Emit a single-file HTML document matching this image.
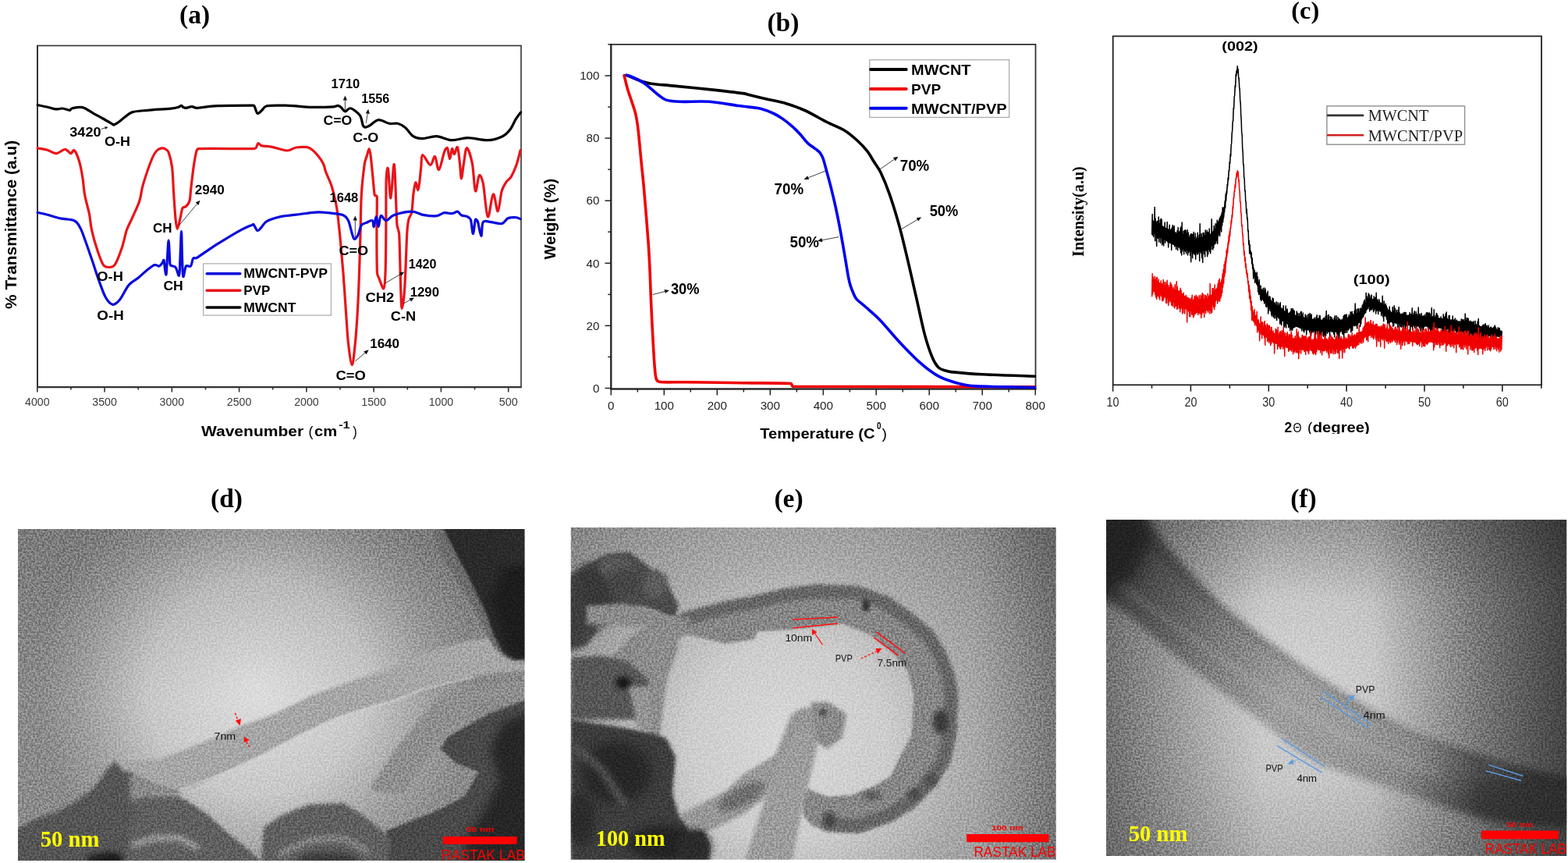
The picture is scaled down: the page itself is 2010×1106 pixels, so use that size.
<!DOCTYPE html>
<html><head><meta charset="utf-8"><title>Figure</title>
<style>html,body{margin:0;padding:0;background:#fff;}svg{display:block;}</style></head>
<body><svg width="2010" height="1106" viewBox="0 0 2010 1106">
<defs>
<clipPath id="clipd"><rect x="23" y="678" width="649.6" height="425"/></clipPath>
<clipPath id="clipe"><rect x="731.6" y="676" width="622.2" height="425.7"/></clipPath>
<clipPath id="clipf"><rect x="1418" y="666" width="590.4" height="431"/></clipPath>
<clipPath id="clipc"><rect x="1600" y="530" width="200" height="26"/></clipPath>
<filter id="b1" filterUnits="userSpaceOnUse" x="0" y="600" width="2010" height="506"><feGaussianBlur stdDeviation="1"/></filter>
<filter id="b1.5" filterUnits="userSpaceOnUse" x="0" y="600" width="2010" height="506"><feGaussianBlur stdDeviation="1.5"/></filter>
<filter id="b2" filterUnits="userSpaceOnUse" x="0" y="600" width="2010" height="506"><feGaussianBlur stdDeviation="2"/></filter>
<filter id="b2.5" filterUnits="userSpaceOnUse" x="0" y="600" width="2010" height="506"><feGaussianBlur stdDeviation="2.5"/></filter>
<filter id="b3" filterUnits="userSpaceOnUse" x="0" y="600" width="2010" height="506"><feGaussianBlur stdDeviation="3"/></filter>
<filter id="b4" filterUnits="userSpaceOnUse" x="0" y="600" width="2010" height="506"><feGaussianBlur stdDeviation="4"/></filter>
<filter id="b5" filterUnits="userSpaceOnUse" x="0" y="600" width="2010" height="506"><feGaussianBlur stdDeviation="5"/></filter>
<filter id="b6" filterUnits="userSpaceOnUse" x="0" y="600" width="2010" height="506"><feGaussianBlur stdDeviation="6"/></filter>
<filter id="b7" filterUnits="userSpaceOnUse" x="0" y="600" width="2010" height="506"><feGaussianBlur stdDeviation="7"/></filter>
<filter id="b8" filterUnits="userSpaceOnUse" x="0" y="600" width="2010" height="506"><feGaussianBlur stdDeviation="8"/></filter>
<filter id="b10" filterUnits="userSpaceOnUse" x="0" y="600" width="2010" height="506"><feGaussianBlur stdDeviation="10"/></filter>
<filter id="noise" x="0" y="0" width="100%" height="100%" color-interpolation-filters="sRGB">
 <feTurbulence type="fractalNoise" baseFrequency="0.42" numOctaves="2" seed="3"/>
 <feColorMatrix type="matrix" values="3 0 0 0 -1  3 0 0 0 -1  3 0 0 0 -1  0 0 0 0 1"/>
</filter>
<radialGradient id="gd" gradientUnits="userSpaceOnUse" cx="330" cy="880" r="280">
 <stop offset="0" stop-color="#dedede"/><stop offset="0.5" stop-color="#c8c8c8"/><stop offset="0.8" stop-color="#9e9e9e"/><stop offset="1" stop-color="#8a8a8a"/>
</radialGradient>
<linearGradient id="gd2" gradientUnits="userSpaceOnUse" x1="0" y1="900" x2="0" y2="690">
 <stop offset="0" stop-color="#000" stop-opacity="0"/><stop offset="1" stop-color="#000" stop-opacity="0.11"/>
</linearGradient>
<radialGradient id="gdUNUSED">
</radialGradient>
<radialGradient id="ge" gradientUnits="userSpaceOnUse" cx="1010" cy="950" r="420">
 <stop offset="0" stop-color="#d8d8d8"/><stop offset="0.3" stop-color="#cdcdcd"/><stop offset="0.55" stop-color="#aaaaaa"/><stop offset="0.75" stop-color="#979797"/><stop offset="1" stop-color="#7a7a7a"/>
</radialGradient>
<linearGradient id="ge2" gradientUnits="userSpaceOnUse" x1="1250" y1="0" x2="1354" y2="0">
 <stop offset="0" stop-color="#000" stop-opacity="0"/><stop offset="1" stop-color="#000" stop-opacity="0.18"/>
</linearGradient>
<radialGradient id="gf" gradientUnits="userSpaceOnUse" cx="1660" cy="880" r="420">
 <stop offset="0" stop-color="#d2d2d2"/><stop offset="0.3" stop-color="#c6c6c6"/><stop offset="0.6" stop-color="#a8a8a8"/><stop offset="1" stop-color="#8a8a8a"/>
</radialGradient>
<linearGradient id="gf2" gradientUnits="userSpaceOnUse" x1="1760" y1="0" x2="2008" y2="0">
 <stop offset="0" stop-color="#000" stop-opacity="0"/><stop offset="1" stop-color="#000" stop-opacity="0.55"/>
</linearGradient>
<linearGradient id="gf3" gradientUnits="userSpaceOnUse" x1="1418" y1="0" x2="1620" y2="0">
 <stop offset="0" stop-color="#000" stop-opacity="0.34"/><stop offset="1" stop-color="#000" stop-opacity="0"/>
</linearGradient>
<linearGradient id="gf4" gradientUnits="userSpaceOnUse" x1="0" y1="666" x2="0" y2="770">
 <stop offset="0" stop-color="#000" stop-opacity="0.16"/><stop offset="1" stop-color="#000" stop-opacity="0"/>
</linearGradient>
<linearGradient id="gband" gradientUnits="userSpaceOnUse" x1="1418" y1="700" x2="2008" y2="1040">
 <stop offset="0" stop-color="#303030"/><stop offset="0.148" stop-color="#565656"/><stop offset="0.27" stop-color="#7a7a7a"/><stop offset="0.43" stop-color="#9e9e9e"/><stop offset="0.57" stop-color="#9a9a9a"/><stop offset="0.7" stop-color="#888888"/><stop offset="0.81" stop-color="#505050"/><stop offset="0.92" stop-color="#303030"/><stop offset="1" stop-color="#282828"/>
</linearGradient>
</defs>
<rect width="2010" height="1106" fill="#fff"/>
<text x="230" y="29.5" font-family="'Liberation Serif', sans-serif" font-size="33.5" font-weight="bold" fill="#000" text-anchor="start" >(a)</text>
<rect x="48" y="58.5" width="620" height="437.5" fill="none" stroke="#333" stroke-width="1.6"/>
<line x1="47.8" y1="496.1" x2="668.5" y2="496.1" stroke="#333" stroke-width="2.2" />
<line x1="48" y1="58" x2="48" y2="497" stroke="#333" stroke-width="2" />
<line x1="47.8" y1="496" x2="47.8" y2="502.5" stroke="#333" stroke-width="1.6" />
<line x1="90.9" y1="496" x2="90.9" y2="499.5" stroke="#333" stroke-width="1.6" />
<line x1="134.1" y1="496" x2="134.1" y2="502.5" stroke="#333" stroke-width="1.6" />
<line x1="177.2" y1="496" x2="177.2" y2="499.5" stroke="#333" stroke-width="1.6" />
<line x1="220.3" y1="496" x2="220.3" y2="502.5" stroke="#333" stroke-width="1.6" />
<line x1="263.5" y1="496" x2="263.5" y2="499.5" stroke="#333" stroke-width="1.6" />
<line x1="306.6" y1="496" x2="306.6" y2="502.5" stroke="#333" stroke-width="1.6" />
<line x1="349.7" y1="496" x2="349.7" y2="499.5" stroke="#333" stroke-width="1.6" />
<line x1="392.9" y1="496" x2="392.9" y2="502.5" stroke="#333" stroke-width="1.6" />
<line x1="436" y1="496" x2="436" y2="499.5" stroke="#333" stroke-width="1.6" />
<line x1="479.1" y1="496" x2="479.1" y2="502.5" stroke="#333" stroke-width="1.6" />
<line x1="522.3" y1="496" x2="522.3" y2="499.5" stroke="#333" stroke-width="1.6" />
<line x1="565.4" y1="496" x2="565.4" y2="502.5" stroke="#333" stroke-width="1.6" />
<line x1="608.5" y1="496" x2="608.5" y2="499.5" stroke="#333" stroke-width="1.6" />
<line x1="651.7" y1="496" x2="651.7" y2="502.5" stroke="#333" stroke-width="1.6" />
<text x="47.8" y="519.8" font-family="'Liberation Sans', sans-serif" font-size="15.3" font-weight="normal" fill="#3a3a3a" text-anchor="middle" textLength="31.5" lengthAdjust="spacingAndGlyphs" >4000</text>
<text x="134.1" y="519.8" font-family="'Liberation Sans', sans-serif" font-size="15.3" font-weight="normal" fill="#3a3a3a" text-anchor="middle" textLength="31.5" lengthAdjust="spacingAndGlyphs" >3500</text>
<text x="220.3" y="519.8" font-family="'Liberation Sans', sans-serif" font-size="15.3" font-weight="normal" fill="#3a3a3a" text-anchor="middle" textLength="31.5" lengthAdjust="spacingAndGlyphs" >3000</text>
<text x="306.6" y="519.8" font-family="'Liberation Sans', sans-serif" font-size="15.3" font-weight="normal" fill="#3a3a3a" text-anchor="middle" textLength="31.5" lengthAdjust="spacingAndGlyphs" >2500</text>
<text x="392.9" y="519.8" font-family="'Liberation Sans', sans-serif" font-size="15.3" font-weight="normal" fill="#3a3a3a" text-anchor="middle" textLength="31.5" lengthAdjust="spacingAndGlyphs" >2000</text>
<text x="479.1" y="519.8" font-family="'Liberation Sans', sans-serif" font-size="15.3" font-weight="normal" fill="#3a3a3a" text-anchor="middle" textLength="31.5" lengthAdjust="spacingAndGlyphs" >1500</text>
<text x="565.4" y="519.8" font-family="'Liberation Sans', sans-serif" font-size="15.3" font-weight="normal" fill="#3a3a3a" text-anchor="middle" textLength="31.5" lengthAdjust="spacingAndGlyphs" >1000</text>
<text x="651.7" y="519.8" font-family="'Liberation Sans', sans-serif" font-size="15.3" font-weight="normal" fill="#3a3a3a" text-anchor="middle" textLength="24" lengthAdjust="spacingAndGlyphs" >500</text>
<path d="M48.2,134.6 C50.2,135 56.1,136.1 60,137 C63.9,137.9 68,139.6 71.3,139.9 C74.6,140.2 77,138.8 80,139 C83,139.2 87.3,141.3 89.3,141.3 C90.7,141.3 90.6,139.3 92,139 C94.7,138.4 100.9,136.5 105.7,137.6 C110.5,138.7 116.2,143.4 120.6,145.8 C125,148.2 128,149.8 132,152 C136,154.2 142.2,158 144.5,159.3 C145.1,159.6 145.4,160.3 146,160 C147.5,159.4 151.1,157.2 153.4,155.5 C155.7,153.8 157.2,152 160,150 C162.8,148 165.4,144.9 169.9,143.6 C174.8,142.2 181.5,142 189.3,141.3 C197.5,140.6 212.7,139.7 219.1,139.1 C222.7,138.7 225.8,138.1 228,137.5 C229.9,137 231.3,135.4 232.5,135.4 C233.7,135.4 234,137 235,137.5 C236,138 237.1,138.5 238.5,138.4 C240.3,138.2 243.8,136.6 246,136.6 C248.2,136.6 249.5,138.5 252,138.4 C257.5,138.2 268,136.2 278.8,135.7 C290.7,135.1 315.7,135.1 323.6,135.1 C324.6,135.1 325.5,135 326,135.8 C327.1,137.5 328.5,144.2 330,145.3 C331.5,146.4 333.1,143.7 334.9,142.3 C336.9,140.7 338.2,136.6 341.9,135.8 C347.7,134.6 360.2,135.1 369.8,135.3 C379.4,135.6 390,137.1 399.6,137.3 C409.2,137.6 421.9,137.1 427.5,136.8 C429.9,136.7 431.8,135.1 433.4,135.3 C435,135.5 436,136.6 437.4,137.8 C438.9,139.1 440.4,142.6 442.4,142.8 C444.4,143 446.3,138 449.4,138.8 C452.5,139.6 458.6,144.2 461.3,147.8 C464,151.5 464.1,158.1 465.3,160.7 C465.9,162.1 466.8,163.2 468.3,163.2 C469.8,163.2 472,162 474.2,160.7 C477,159.1 481.1,154.1 485.2,153.7 C489.3,153.3 494.8,157.5 498.9,158.3 C503,159.1 506.4,157.4 509.9,158.3 C513.4,159.2 516.5,161.1 519.8,163.8 C523.1,166.5 526.1,172.4 529.8,174.7 C533.4,177 536.8,177.7 541.7,177.7 C546.7,177.7 553.3,174.4 559.6,174.7 C565.9,175 572.9,179.4 579.5,179.7 C586.1,180 591.8,176.7 599.4,176.7 C607,176.7 617.8,180 625.3,179.7 C632.8,179.4 639.4,177 644.2,174.7 C649,172.4 651.3,169.5 654.1,165.8 C656.9,162.2 658.9,156.5 661.1,152.8 C663.4,149.2 666.5,145.4 667.6,143.9" fill="none" stroke="#000" stroke-width="3.2" stroke-linejoin="round" stroke-linecap="round" />
<path d="M48.2,189.9 C50.2,190.2 56,190.9 60,192 C64,193.1 68.2,196.7 72.1,196.6 C76,196.5 80.2,191.3 83.3,191.3 C86.4,191.3 88.7,196.3 90.7,196.6 C92.7,196.8 93.5,191.3 95.2,192.8 C97,194.3 99.5,200.1 101.2,205.5 C103,211.1 104.5,219 105.7,226.4 C107,233.8 107.2,241.9 108.7,250 C110.2,258.1 113.1,267.5 114.6,275 C116.1,282.5 115.8,287 117.6,294.8 C119.3,302.6 122.6,314.1 125.1,321.6 C127.6,329 130,336.1 132.5,339.6 C134.4,342.2 137.5,342.6 140,342.5 C142.5,342.4 145.7,341.6 147.5,338.8 C150.2,334.6 153.9,324.5 156.4,317.2 C158.9,309.9 160.2,301.3 162.4,294.8 C164.7,288.3 167.2,284.6 169.9,278.4 C172.6,272.2 176.6,264.4 178.8,257.5 C181,250.6 180.9,245 183.3,236.9 C186,227.7 192.2,209.8 195.2,202.5 C196.9,198.4 199,195.1 201,193 C202.9,191 205.4,190.2 207.2,189.9 C209,189.6 210.5,190.1 212,191 C213.5,191.9 215.3,192.9 216.1,195.1 C217.5,199 219.6,206.6 220.6,214.5 C221.7,222.8 221.8,234.1 222.5,245 C223.2,255.9 224.2,271.9 225,280 C225.5,285.4 226.3,293.3 227.3,293.3 C228.3,293.3 229.9,284.3 231,279.9 C232.1,275.5 232.8,269.3 234,266.7 C234.9,264.9 237.1,265.9 238.5,264.5 C240,263 242.1,260.7 243,257.5 C244,254.1 243.9,249.6 244.5,244.3 C245.3,237.2 246.8,223.4 248,215 C249.2,206.6 250.8,197.7 251.9,193.6 C252.4,192 253.2,190.7 254.9,190.6 C266.9,190.1 311.4,190.8 323.6,190.6 C325.4,190.6 326.8,190.8 328,189.6 C329.2,188.4 329.8,184.1 330.9,183.6 C332,183.1 333,186.1 334.9,186.6 C338.1,187.4 344.4,187.5 349.9,188.6 C355.4,189.7 362.8,192.9 367.8,193 C372.8,193.1 375.4,189.7 379.7,189 C384,188.3 390.3,188.2 393.6,188.6 C396.2,188.9 397.5,189.9 399.6,191.5 C401.9,193.3 405.1,196.4 407.6,199.5 C410.1,202.6 412.9,206.6 414.5,210 C416.1,213.4 416.1,216 417.5,219.9 C419.3,224.9 423.2,232.3 425.5,239.8 C427.8,247.3 429.9,256.3 431.4,264.7 C432.9,273.1 433.6,282.4 434.5,290 C435.4,297.6 435.8,302 436.5,310 C437.4,320 438.8,335 440,350 C441.2,365 442.4,385 443.5,400 C444.6,415 445.2,428.7 446.5,440 C447.8,451.2 449.8,467.7 451.3,467.7 C452.8,467.7 454.1,451.1 455.3,440 C456.5,428.7 457.4,415 458.3,400 C459.2,385 459.9,366.7 460.5,350 C461.1,333.3 461.5,316.7 462,300 C462.5,283.3 462.4,264.8 463.3,249.8 C464.2,234.8 466.2,218.3 467.3,210 C467.9,205.9 469.2,203.2 470.2,200 C471.2,196.8 472.4,190.5 473.2,190.5 C474,190.5 474.7,196.1 475.2,200 C476,206.6 477.4,221.6 478.2,229.9 C479,237.9 479.4,246.2 480.2,249.8 C480.5,251.2 483.1,250.3 483.2,251.7 C483.6,260.1 482.8,283.6 482.9,300 C482.9,316.4 483,340.5 483.5,350 C483.7,353 484.8,354.3 486,357 C487.4,360.3 490.5,370.9 491.8,369.7 C493.1,368.5 493.7,357.9 494,350 C494.5,338.4 494.6,320 494.8,300 C495,280 494.7,243.9 495.1,229.9 C495.3,224.3 496.4,212 497.4,216 C498.4,220 499.6,254.6 500.9,253.8 C502.2,253 504.1,205.4 505.4,211 C506.7,216.6 507.8,272.8 508.9,287.6 C509.3,292.7 511.4,294.9 511.7,300 C512.5,313.7 513.1,353.8 513.7,369.7 C514.1,380 514.4,395.5 515.2,395.5 C516,395.5 518,380.1 518.7,369.7 C519.8,353.8 520.9,314.7 521.7,300 C522.1,292.6 522.8,286.3 523.8,281.6 C524.7,277.4 527,275.9 527.8,271.7 C528.8,266.4 529,256.1 529.8,249.8 C530.6,243.5 531.7,234.9 532.7,233.9 C533.7,232.9 534.9,243.8 535.7,243.8 C536.5,243.8 537.1,237.9 537.7,233.9 C538.4,229.1 539,220.9 539.7,215 C540.4,209.1 539.7,199.2 541.7,198.6 C543.7,198 549,211.2 551.6,211.5 C554.2,211.8 555.8,199.6 557.6,200.6 C559.4,201.6 560.6,218.5 562.6,217.5 C564.6,216.5 567.8,199.2 569.6,194.6 C570.5,192.3 572.4,188.2 573.5,189.7 C574.6,191.2 575.5,203.4 576.5,203.6 C577.5,203.8 578.5,191.6 579.5,190.6 C580.5,189.6 581.3,197.9 582.5,197.6 C583.7,197.3 585.3,186.6 586.5,188.7 C587.7,190.8 588.7,203.3 589.5,210 C590.3,216.7 590.6,228.9 591.4,228.9 C592.2,228.9 593.2,216.5 594.4,210 C595.6,203.5 596.6,189.8 598.4,189.7 C600.2,189.6 603.7,201.3 605.4,209.6 C607.2,218.8 607.9,242.2 609.4,244.8 C610.9,247.4 612.6,226.6 614.3,224.9 C615.9,223.2 618.4,230.5 619.3,234.9 C621.1,243.7 623.1,275.4 625.3,277.7 C627.4,280 630.1,250 632.2,248.8 C634.4,247.6 636.4,271.4 638.2,270.7 C640,270 641.4,251.1 643.2,244.8 C644.7,239.7 647.2,235.9 649.2,232.9 C651.1,230.1 653.4,229.8 655.1,226.9 C657.2,223.2 660.1,216.7 662.1,211 C664.1,205.3 666.3,195.7 667.1,192.6" fill="none" stroke="#e8141a" stroke-width="3.2" stroke-linejoin="round" stroke-linecap="round" />
<path d="M48.2,272.4 C50.2,272.8 55.3,273.8 60,275 C64.8,276.2 71.4,278.6 77.3,279.9 C83.2,281.2 91,280.8 95.2,282.8 C99.4,284.8 100.5,287.8 102.7,291.8 C105,295.8 106.5,300.7 108.7,306.7 C111.2,313.4 114.6,323.4 117.6,332.1 C120.6,340.8 123.6,350.8 126.6,359 C129.6,367.2 132.5,376.1 135.5,381.3 C138,385.7 141.5,389.8 144.5,390.3 C147.5,390.8 150.7,387.6 153.4,384.3 C156.9,380.1 161.4,369.6 165.4,364.9 C169.2,360.4 173.3,359.2 177.3,356 C181.3,352.8 185.8,348.2 189.3,345.5 C192.7,342.9 195.7,340.4 198.2,339.6 C200.6,338.9 202.6,341.4 204.2,341 C205.8,340.6 207,338.2 208,337 C209,335.8 209.5,332.3 210.1,333.6 C210.7,334.9 211,342 211.5,345 C211.9,347.6 212.6,354 213.1,351.5 C213.6,349 214,337.2 214.5,330 C215,322.8 215.6,308.2 216.1,308.2 C216.6,308.2 217.1,324.8 217.5,330 C217.8,333.8 217.2,337.5 218.4,339.6 C219.7,341.7 223.2,340.3 225,342.5 C226.9,344.7 228.6,355.1 229.6,353 C230.6,350.9 230.5,339.2 231,330 C231.5,320.6 232.1,296.3 232.5,296.3 C232.9,296.3 233.1,320.3 233.5,330 C233.9,339.7 234,352.7 234.8,354.5 C235.6,356.3 236.9,343.2 238.5,341 C239.9,339.1 243,342.6 244.5,341 C246,339.4 246.3,333 247.5,331.3 C248.5,329.8 250.4,331.5 251.9,330.6 C257.1,327.5 269.3,318.7 278.8,312.7 C288.3,306.7 301.2,298.9 308.7,294.8 C314.4,291.7 320.9,289.3 323.6,288.1 C324.1,287.9 324.6,287.2 325,287.6 C326.1,288.8 328.4,294.9 330,295.5 C331.6,296.1 333.1,293.3 334.9,291.5 C336.9,289.5 338.2,285.7 341.9,283.6 C346,281.3 353.5,279 359.8,277.6 C366.1,276.2 372.2,276 379.7,275.1 C387.2,274.2 398,272.5 404.6,272.1 C410.6,271.7 413.7,272 419.5,272.6 C425.3,273.2 434.9,273.9 439.4,275.6 C443.1,277 444.6,279.1 446.4,282.6 C448.4,286.6 450,295.5 451.3,299.5 C452.3,302.4 453,306.3 454.3,306.5 C455.6,306.7 457.9,303.3 459.3,300.5 C460.8,297.5 461.6,291.1 463.3,288.6 C464.8,286.4 467,286.6 469.3,285.6 C471.6,284.6 475.6,281.8 477.2,282.6 C478.8,283.4 478.4,291.3 479.2,290.5 C480,289.7 481.2,277.6 482.2,277.6 C483.2,277.6 484.2,290.7 485.2,290.5 C486.2,290.3 486.6,277.9 488.2,276.6 C489.8,275.3 492.1,282.8 494.9,282.6 C497.7,282.5 500.3,277.3 504.9,275.7 C510.4,273.8 521.3,271.2 527.8,271.2 C534.3,271.2 538.4,274.8 543.7,275.7 C549,276.6 555.3,277.2 559.6,276.7 C563.9,276.2 566.3,273.2 569.6,272.7 C572.9,272.2 576.7,273.9 579.5,273.7 C582.3,273.4 584.5,270.9 586.5,271.2 C588.5,271.5 589.2,274.6 591.4,275.7 C593.5,276.8 597.4,276.7 599.4,277.7 C601.4,278.7 602.7,279.5 603.4,281.6 C604.6,285.2 605.4,299.6 606.4,299.6 C607.4,299.6 608.4,284.3 609.4,281.6 C609.9,280.3 611.8,282.3 612.3,283.6 C613.5,287.1 615.6,302.3 616.8,302.5 C618,302.7 617.2,287.6 619.3,284.6 C621.4,281.6 625.3,284.3 629.3,284.6 C633.3,284.9 639.6,287.4 643.2,286.6 C646.8,285.8 648.1,281 651.1,279.7 C654.1,278.4 658.5,278.5 661.1,278.7 C663.6,278.8 666,280.3 667,280.6" fill="none" stroke="#0a0adc" stroke-width="3.2" stroke-linejoin="round" stroke-linecap="round" />
<text x="89.3" y="175" font-family="'Liberation Sans', sans-serif" font-size="17" font-weight="bold" fill="#000" text-anchor="start" textLength="40.3" lengthAdjust="spacingAndGlyphs" >3420</text>
<text x="134" y="186.9" font-family="'Liberation Sans', sans-serif" font-size="17" font-weight="bold" fill="#000" text-anchor="start" textLength="32.9" lengthAdjust="spacingAndGlyphs" >O-H</text>
<line x1="129.6" y1="165.5" x2="134.7" y2="164" stroke="#111" stroke-width="0.8" /><polygon points="138.5,162.8 135.2,165.7 134.1,162.2" fill="#111"/>
<text x="424.5" y="113" font-family="'Liberation Sans', sans-serif" font-size="17" font-weight="bold" fill="#000" text-anchor="start" textLength="36.8" lengthAdjust="spacingAndGlyphs" >1710</text>
<line x1="442.4" y1="142" x2="442.4" y2="128.4" stroke="#111" stroke-width="0.8" /><polygon points="442.4,122.4 445,128.4 439.8,128.4" fill="#111"/>
<text x="463.3" y="131.8" font-family="'Liberation Sans', sans-serif" font-size="17" font-weight="bold" fill="#000" text-anchor="start" textLength="35.8" lengthAdjust="spacingAndGlyphs" >1556</text>
<line x1="469.3" y1="157.7" x2="471.2" y2="145.7" stroke="#111" stroke-width="0.8" /><polygon points="472.2,139.8 473.8,146.1 468.7,145.3" fill="#111"/>
<text x="414.5" y="160.2" font-family="'Liberation Sans', sans-serif" font-size="17" font-weight="bold" fill="#000" text-anchor="start" textLength="36.8" lengthAdjust="spacingAndGlyphs" >C=O</text>
<text x="452.3" y="182.1" font-family="'Liberation Sans', sans-serif" font-size="17" font-weight="bold" fill="#000" text-anchor="start" textLength="32.9" lengthAdjust="spacingAndGlyphs" >C-O</text>
<text x="249.7" y="248.8" font-family="'Liberation Sans', sans-serif" font-size="17" font-weight="bold" fill="#000" text-anchor="start" textLength="38.1" lengthAdjust="spacingAndGlyphs" >2940</text>
<line x1="229.6" y1="288.8" x2="252.6" y2="261.3" stroke="#111" stroke-width="0.8" /><polygon points="256.4,256.7 254.6,263 250.6,259.6" fill="#111"/>
<text x="196" y="297.8" font-family="'Liberation Sans', sans-serif" font-size="17" font-weight="bold" fill="#000" text-anchor="start" textLength="24.6" lengthAdjust="spacingAndGlyphs" >CH</text>
<text x="124.3" y="359.7" font-family="'Liberation Sans', sans-serif" font-size="17" font-weight="bold" fill="#000" text-anchor="start" textLength="33.6" lengthAdjust="spacingAndGlyphs" >O-H</text>
<text x="209.4" y="371.6" font-family="'Liberation Sans', sans-serif" font-size="17" font-weight="bold" fill="#000" text-anchor="start" textLength="25.4" lengthAdjust="spacingAndGlyphs" >CH</text>
<text x="124.3" y="410.4" font-family="'Liberation Sans', sans-serif" font-size="17" font-weight="bold" fill="#000" text-anchor="start" textLength="34.4" lengthAdjust="spacingAndGlyphs" >O-H</text>
<text x="422.5" y="259.2" font-family="'Liberation Sans', sans-serif" font-size="17" font-weight="bold" fill="#000" text-anchor="start" textLength="36.8" lengthAdjust="spacingAndGlyphs" >1648</text>
<line x1="455.3" y1="304" x2="455.3" y2="282.6" stroke="#111" stroke-width="0.8" /><polygon points="455.3,276.6 457.9,282.6 452.7,282.6" fill="#111"/>
<text x="434.4" y="326.9" font-family="'Liberation Sans', sans-serif" font-size="17" font-weight="bold" fill="#000" text-anchor="start" textLength="37.8" lengthAdjust="spacingAndGlyphs" >C=O</text>
<text x="523.7" y="343.8" font-family="'Liberation Sans', sans-serif" font-size="17" font-weight="bold" fill="#000" text-anchor="start" textLength="35.8" lengthAdjust="spacingAndGlyphs" >1420</text>
<line x1="493.8" y1="363" x2="513.1" y2="351.5" stroke="#111" stroke-width="0.8" /><polygon points="518.3,348.4 514.5,353.7 511.8,349.2" fill="#111"/>
<text x="468.4" y="386.6" font-family="'Liberation Sans', sans-serif" font-size="17" font-weight="bold" fill="#000" text-anchor="start" textLength="36.8" lengthAdjust="spacingAndGlyphs" >CH2</text>
<text x="525.7" y="379.6" font-family="'Liberation Sans', sans-serif" font-size="17" font-weight="bold" fill="#000" text-anchor="start" textLength="37.3" lengthAdjust="spacingAndGlyphs" >1290</text>
<line x1="517.2" y1="389" x2="525.7" y2="384.4" stroke="#111" stroke-width="0.8" /><polygon points="531,381.5 527,386.6 524.5,382.1" fill="#111"/>
<text x="500.8" y="410.9" font-family="'Liberation Sans', sans-serif" font-size="17" font-weight="bold" fill="#000" text-anchor="start" textLength="32.3" lengthAdjust="spacingAndGlyphs" >C-N</text>
<text x="474.2" y="446.3" font-family="'Liberation Sans', sans-serif" font-size="17" font-weight="bold" fill="#000" text-anchor="start" textLength="37.8" lengthAdjust="spacingAndGlyphs" >1640</text>
<line x1="455.3" y1="463" x2="468" y2="452.2" stroke="#111" stroke-width="0.8" /><polygon points="472.6,448.3 469.7,454.2 466.3,450.2" fill="#111"/>
<text x="430.4" y="487.1" font-family="'Liberation Sans', sans-serif" font-size="17" font-weight="bold" fill="#000" text-anchor="start" textLength="38.4" lengthAdjust="spacingAndGlyphs" >C=O</text>
<rect x="260.6" y="337.9" width="163.8" height="66.2" fill="#fff" stroke="#b0b0b0" stroke-width="1.3"/>
<line x1="265.2" y1="350.8" x2="307.8" y2="350.8" stroke="#0a0adc" stroke-width="3.6" stroke-linecap="round"/>
<line x1="265.2" y1="372.3" x2="307.8" y2="372.3" stroke="#e8141a" stroke-width="3.6" stroke-linecap="round"/>
<line x1="265.2" y1="394" x2="307.8" y2="394" stroke="#000" stroke-width="3.6" stroke-linecap="round"/>
<text x="312.2" y="356.4" font-family="'Liberation Sans', sans-serif" font-size="16.5" font-weight="bold" fill="#000" text-anchor="start" textLength="107.9" lengthAdjust="spacingAndGlyphs" >MWCNT-PVP</text>
<text x="312.2" y="378.4" font-family="'Liberation Sans', sans-serif" font-size="16.5" font-weight="bold" fill="#000" text-anchor="start" textLength="34.1" lengthAdjust="spacingAndGlyphs" >PVP</text>
<text x="312.2" y="399.8" font-family="'Liberation Sans', sans-serif" font-size="16.5" font-weight="bold" fill="#000" text-anchor="start" textLength="67.2" lengthAdjust="spacingAndGlyphs" >MWCNT</text>
<text x="257.9" y="559.4" font-family="'Liberation Sans', sans-serif" font-size="19.2" font-weight="bold" fill="#000" text-anchor="start" textLength="131.3" lengthAdjust="spacingAndGlyphs" >Wavenumber</text>
<text x="395.5" y="559.4" font-family="'Liberation Sans', sans-serif" font-size="19.2" font-weight="normal" fill="#000" text-anchor="start" textLength="6" lengthAdjust="spacingAndGlyphs" >(</text>
<text x="403" y="559.4" font-family="'Liberation Sans', sans-serif" font-size="19.2" font-weight="bold" fill="#000" text-anchor="start" textLength="29.2" lengthAdjust="spacingAndGlyphs" >cm</text>
<text x="434.2" y="548.6" font-family="'Liberation Sans', sans-serif" font-size="13.5" font-weight="bold" fill="#000" text-anchor="start" textLength="14.5" lengthAdjust="spacingAndGlyphs" >-1</text>
<text x="452.2" y="559.4" font-family="'Liberation Sans', sans-serif" font-size="19.2" font-weight="normal" fill="#000" text-anchor="start" textLength="5.5" lengthAdjust="spacingAndGlyphs" >)</text>
<text x="20.7" y="396" font-family="'Liberation Sans', sans-serif" font-size="19.5" font-weight="bold" fill="#000" text-anchor="start" textLength="216.2" lengthAdjust="spacingAndGlyphs" transform="rotate(-90 20.7 396)">% Transmittance (a.u)</text>
<text x="983.4" y="39.6" font-family="'Liberation Serif', sans-serif" font-size="33.5" font-weight="bold" fill="#000" text-anchor="start" >(b)</text>
<rect x="783.3" y="57" width="544.2" height="441.5" fill="none" stroke="#333" stroke-width="1.8"/>
<line x1="783.3" y1="56" x2="783.3" y2="499.5" stroke="#222" stroke-width="2" />
<line x1="782.3" y1="498.5" x2="1328.5" y2="498.5" stroke="#222" stroke-width="2" />
<line x1="775.5" y1="497.5" x2="783.3" y2="497.5" stroke="#222" stroke-width="1.5" />
<text x="768.5" y="502.7" font-family="'Liberation Sans', sans-serif" font-size="15.2" font-weight="normal" fill="#222" text-anchor="end" >0</text>
<line x1="779.3" y1="457.4" x2="783.3" y2="457.4" stroke="#222" stroke-width="1.5" />
<line x1="775.5" y1="417.4" x2="783.3" y2="417.4" stroke="#222" stroke-width="1.5" />
<text x="768.5" y="422.6" font-family="'Liberation Sans', sans-serif" font-size="15.2" font-weight="normal" fill="#222" text-anchor="end" >20</text>
<line x1="779.3" y1="377.4" x2="783.3" y2="377.4" stroke="#222" stroke-width="1.5" />
<line x1="775.5" y1="337.3" x2="783.3" y2="337.3" stroke="#222" stroke-width="1.5" />
<text x="768.5" y="342.5" font-family="'Liberation Sans', sans-serif" font-size="15.2" font-weight="normal" fill="#222" text-anchor="end" >40</text>
<line x1="779.3" y1="297.2" x2="783.3" y2="297.2" stroke="#222" stroke-width="1.5" />
<line x1="775.5" y1="257.2" x2="783.3" y2="257.2" stroke="#222" stroke-width="1.5" />
<text x="768.5" y="262.4" font-family="'Liberation Sans', sans-serif" font-size="15.2" font-weight="normal" fill="#222" text-anchor="end" >60</text>
<line x1="779.3" y1="217.2" x2="783.3" y2="217.2" stroke="#222" stroke-width="1.5" />
<line x1="775.5" y1="177.1" x2="783.3" y2="177.1" stroke="#222" stroke-width="1.5" />
<text x="768.5" y="182.3" font-family="'Liberation Sans', sans-serif" font-size="15.2" font-weight="normal" fill="#222" text-anchor="end" >80</text>
<line x1="779.3" y1="137.1" x2="783.3" y2="137.1" stroke="#222" stroke-width="1.5" />
<line x1="775.5" y1="97" x2="783.3" y2="97" stroke="#222" stroke-width="1.5" />
<text x="768.5" y="102.2" font-family="'Liberation Sans', sans-serif" font-size="15.2" font-weight="normal" fill="#222" text-anchor="end" >100</text>
<line x1="779.3" y1="56.9" x2="783.3" y2="56.9" stroke="#222" stroke-width="1.5" />
<line x1="783.3" y1="498.5" x2="783.3" y2="506.5" stroke="#222" stroke-width="1.5" />
<text x="783.3" y="525.3" font-family="'Liberation Sans', sans-serif" font-size="15.2" font-weight="normal" fill="#222" text-anchor="middle" >0</text>
<line x1="817.3" y1="498.5" x2="817.3" y2="502.5" stroke="#222" stroke-width="1.5" />
<line x1="851.3" y1="498.5" x2="851.3" y2="506.5" stroke="#222" stroke-width="1.5" />
<text x="851.3" y="525.3" font-family="'Liberation Sans', sans-serif" font-size="15.2" font-weight="normal" fill="#222" text-anchor="middle" >100</text>
<line x1="885.3" y1="498.5" x2="885.3" y2="502.5" stroke="#222" stroke-width="1.5" />
<line x1="919.3" y1="498.5" x2="919.3" y2="506.5" stroke="#222" stroke-width="1.5" />
<text x="919.3" y="525.3" font-family="'Liberation Sans', sans-serif" font-size="15.2" font-weight="normal" fill="#222" text-anchor="middle" >200</text>
<line x1="953.3" y1="498.5" x2="953.3" y2="502.5" stroke="#222" stroke-width="1.5" />
<line x1="987.3" y1="498.5" x2="987.3" y2="506.5" stroke="#222" stroke-width="1.5" />
<text x="987.3" y="525.3" font-family="'Liberation Sans', sans-serif" font-size="15.2" font-weight="normal" fill="#222" text-anchor="middle" >300</text>
<line x1="1021.3" y1="498.5" x2="1021.3" y2="502.5" stroke="#222" stroke-width="1.5" />
<line x1="1055.3" y1="498.5" x2="1055.3" y2="506.5" stroke="#222" stroke-width="1.5" />
<text x="1055.3" y="525.3" font-family="'Liberation Sans', sans-serif" font-size="15.2" font-weight="normal" fill="#222" text-anchor="middle" >400</text>
<line x1="1089.3" y1="498.5" x2="1089.3" y2="502.5" stroke="#222" stroke-width="1.5" />
<line x1="1123.2" y1="498.5" x2="1123.2" y2="506.5" stroke="#222" stroke-width="1.5" />
<text x="1123.2" y="525.3" font-family="'Liberation Sans', sans-serif" font-size="15.2" font-weight="normal" fill="#222" text-anchor="middle" >500</text>
<line x1="1157.2" y1="498.5" x2="1157.2" y2="502.5" stroke="#222" stroke-width="1.5" />
<line x1="1191.2" y1="498.5" x2="1191.2" y2="506.5" stroke="#222" stroke-width="1.5" />
<text x="1191.2" y="525.3" font-family="'Liberation Sans', sans-serif" font-size="15.2" font-weight="normal" fill="#222" text-anchor="middle" >600</text>
<line x1="1225.2" y1="498.5" x2="1225.2" y2="502.5" stroke="#222" stroke-width="1.5" />
<line x1="1259.2" y1="498.5" x2="1259.2" y2="506.5" stroke="#222" stroke-width="1.5" />
<text x="1259.2" y="525.3" font-family="'Liberation Sans', sans-serif" font-size="15.2" font-weight="normal" fill="#222" text-anchor="middle" >700</text>
<line x1="1293.2" y1="498.5" x2="1293.2" y2="502.5" stroke="#222" stroke-width="1.5" />
<line x1="1327.2" y1="498.5" x2="1327.2" y2="506.5" stroke="#222" stroke-width="1.5" />
<text x="1327.2" y="525.3" font-family="'Liberation Sans', sans-serif" font-size="15.2" font-weight="normal" fill="#222" text-anchor="middle" >800</text>
<path d="M800.1,96.7 C800.9,99.7 802.9,108.6 804.6,114.6 C806.4,120.6 808.9,127 810.6,132.5 C812.4,138 813.9,141.8 815.1,147.5 C816.4,153.2 817.2,159.1 818.1,166.9 C819.2,176.5 820.6,192.4 821.8,205 C823,217.6 824.2,227.3 825.5,242.2 C827,259.7 829.8,292.9 831,310 C832,324 832.4,332.5 833,345 C833.6,357.5 833.8,368.9 834.5,384.8 C835.2,401.4 836.5,428.3 837.5,444.5 C838.4,459.4 839.2,474.3 840.4,481.8 C841,485.3 841.5,488.6 844.9,489.3 C851.4,490.6 865.5,489.5 879.3,489.7 C897,489.9 928.5,490.4 950.9,490.7 C973.3,491 1002.6,490.8 1013.6,491.5 C1015.5,491.6 1014.7,495.2 1016.6,495.2 C1068.8,495.9 1274.8,495.6 1326.5,495.7" fill="none" stroke="#f00000" stroke-width="3.6" stroke-linejoin="round" stroke-linecap="round" />
<path d="M803.1,96.4 C804.6,97 808.8,98.7 812,100 C815.2,101.3 818.8,103 822.5,104.2 C826.2,105.4 829.6,106.5 834.5,107.2 C841.5,108.2 852.4,108.9 864.3,110.1 C876.7,111.3 894.2,113 909.1,114.6 C924,116.2 945.4,118.7 953.9,119.9 C956.4,120.2 957.5,121 960,121.6 C965,122.8 975.9,125.4 983.9,127.2 C991.9,129.1 999.8,130.3 1007.8,132.7 C1015.8,135.1 1023.8,137.9 1031.7,141.5 C1039.7,145.1 1050.2,151.4 1055.5,154.2 C1058.7,155.9 1060.3,156.6 1063.5,158.2 C1068.2,160.5 1077.4,164.1 1083.4,167.8 C1089.4,171.5 1094.7,176.3 1099.3,180.5 C1103.9,184.7 1107.8,188.8 1111.3,193.2 C1114.8,197.6 1117.1,202.2 1120,206.8 C1122.9,211.4 1125.9,214.8 1128.8,220.7 C1132.1,227.5 1136,236.7 1139.9,247.8 C1143.9,259.2 1149,275.9 1152.7,289.2 C1156.4,302.5 1158.8,312.9 1162.2,327.4 C1165.7,341.9 1171,365.7 1173.4,376.1 C1174.7,381.6 1175.3,384.3 1176.5,389.8 C1178.5,398.7 1182.5,418.2 1185.6,429.6 C1188.7,441 1192.3,451.4 1195.2,458.3 C1197.5,463.8 1200.3,468.2 1203.1,471 C1205.9,473.8 1209.3,474.1 1212,475 C1214.7,475.9 1216.1,476.3 1219,476.6 C1226.8,477.4 1242.9,479 1258.9,479.8 C1276.8,480.7 1315.2,481.8 1326.5,482.2" fill="none" stroke="#000" stroke-width="3.6" stroke-linejoin="round" stroke-linecap="round" />
<path d="M803.1,96.4 C803.9,96.6 805.9,96.7 807.6,97.5 C811.3,99.2 819.5,102.4 825.5,106.4 C831.5,110.4 838.7,117.7 843.4,121.3 C847.4,124.3 849.2,126.6 853.9,128.1 C858.6,129.6 864.6,130 871.8,130.3 C881,130.7 896.7,129.4 909.1,130.3 C921.5,131.2 937.9,134.4 946.4,135.5 C951.8,136.2 955.1,136.4 960,137.1 C964.9,137.8 970.6,138.1 975.9,139.5 C981.2,140.9 987.1,143.3 991.8,145.5 C996.4,147.7 999.8,149.8 1003.8,152.6 C1007.8,155.4 1012,158.9 1015.7,162.2 C1019.4,165.5 1022.8,168.9 1026.1,172.5 C1029.4,176.1 1032,180.4 1035.6,183.7 C1039.2,187 1044.9,190.4 1047.6,192.5 C1049.4,193.9 1050.4,194.7 1051.6,196.4 C1052.8,198.2 1054,200.2 1055,203 C1056.2,206.2 1057.3,210.7 1058.7,215.9 C1060.4,222 1063,231.3 1065.1,239.8 C1067.2,248.3 1069.4,257.1 1071.5,266.9 C1073.6,276.7 1075.7,287.3 1077.8,298.7 C1079.9,310.1 1082.6,326 1084.2,335.4 C1085.5,343.2 1086.5,349.9 1087.5,355 C1088.4,359.4 1089,362.4 1090.1,365.9 C1091.2,369.4 1092.7,373.1 1094,376 C1095.3,378.9 1095.8,380.9 1098,383.4 C1100.5,386.2 1104.8,389.1 1109.2,393 C1114.2,397.5 1121.1,403 1128.3,410.5 C1135.7,418.2 1145.3,430.2 1153.8,439.2 C1162.3,448.2 1171,457.4 1179.2,464.6 C1187.4,471.8 1195.1,477.8 1203.1,482.2 C1211.1,486.6 1219,488.8 1227,490.9 C1235,493 1241.2,494.4 1250.9,494.9 C1267.5,495.8 1313.9,496.2 1326.5,496.5" fill="none" stroke="#0000f0" stroke-width="3.6" stroke-linejoin="round" stroke-linecap="round" />
<text x="859.9" y="377.3" font-family="'Liberation Sans', sans-serif" font-size="20" font-weight="bold" fill="#000" text-anchor="start" textLength="36.5" lengthAdjust="spacingAndGlyphs" >30%</text>
<line x1="836.6" y1="377.6" x2="852.2" y2="373.5" stroke="#111" stroke-width="0.8" /><polygon points="858,372 852.9,376 851.5,371" fill="#111"/>
<text x="992.6" y="248.6" font-family="'Liberation Sans', sans-serif" font-size="20" font-weight="bold" fill="#000" text-anchor="start" textLength="37.5" lengthAdjust="spacingAndGlyphs" >70%</text>
<line x1="1058.7" y1="218.9" x2="1036.2" y2="227.7" stroke="#111" stroke-width="0.8" /><polygon points="1030.6,229.9 1035.2,225.3 1037.1,230.1" fill="#111"/>
<text x="1012.5" y="317" font-family="'Liberation Sans', sans-serif" font-size="20" font-weight="bold" fill="#000" text-anchor="start" textLength="37.5" lengthAdjust="spacingAndGlyphs" >50%</text>
<line x1="1075" y1="303.7" x2="1053.9" y2="307.7" stroke="#111" stroke-width="0.8" /><polygon points="1048,308.8 1053.4,305.1 1054.4,310.2" fill="#111"/>
<text x="1153.8" y="219.2" font-family="'Liberation Sans', sans-serif" font-size="20" font-weight="bold" fill="#000" text-anchor="start" textLength="37.4" lengthAdjust="spacingAndGlyphs" >70%</text>
<line x1="1128" y1="217" x2="1146.4" y2="204.2" stroke="#111" stroke-width="0.8" /><polygon points="1151.3,200.8 1147.9,206.4 1144.9,202.1" fill="#111"/>
<text x="1191.7" y="277.2" font-family="'Liberation Sans', sans-serif" font-size="20" font-weight="bold" fill="#000" text-anchor="start" textLength="36.6" lengthAdjust="spacingAndGlyphs" >50%</text>
<line x1="1155.7" y1="293.6" x2="1176" y2="281.4" stroke="#111" stroke-width="0.8" /><polygon points="1181.1,278.3 1177.3,283.6 1174.6,279.2" fill="#111"/>
<rect x="1114.7" y="76.7" width="178.9" height="73.7" fill="#fff" stroke="#a8a8a8" stroke-width="1.2"/>
<line x1="1116" y1="89" x2="1161.7" y2="89" stroke="#000" stroke-width="4" stroke-linecap="round"/>
<line x1="1116" y1="114.1" x2="1161.7" y2="114.1" stroke="#f00000" stroke-width="4" stroke-linecap="round"/>
<line x1="1116" y1="138.8" x2="1161.7" y2="138.8" stroke="#0000f0" stroke-width="4" stroke-linecap="round"/>
<text x="1168.1" y="95.8" font-family="'Liberation Sans', sans-serif" font-size="18.8" font-weight="bold" fill="#000" text-anchor="start" textLength="76.4" lengthAdjust="spacingAndGlyphs" >MWCNT</text>
<text x="1168.1" y="120.8" font-family="'Liberation Sans', sans-serif" font-size="18.8" font-weight="bold" fill="#000" text-anchor="start" textLength="38.2" lengthAdjust="spacingAndGlyphs" >PVP</text>
<text x="1168.1" y="146" font-family="'Liberation Sans', sans-serif" font-size="18.8" font-weight="bold" fill="#000" text-anchor="start" textLength="122.6" lengthAdjust="spacingAndGlyphs" >MWCNT/PVP</text>
<text x="974.2" y="561.7" font-family="'Liberation Sans', sans-serif" font-size="19.2" font-weight="bold" fill="#000" text-anchor="start" textLength="147.4" lengthAdjust="spacingAndGlyphs" >Temperature (C</text>
<text x="1124" y="550.3" font-family="'Liberation Sans', sans-serif" font-size="12.5" font-weight="bold" fill="#000" text-anchor="start" textLength="5.5" lengthAdjust="spacingAndGlyphs" >0</text>
<text x="1130.5" y="561.7" font-family="'Liberation Sans', sans-serif" font-size="19.2" font-weight="normal" fill="#000" text-anchor="start" >)</text>
<text x="711.7" y="332.4" font-family="'Liberation Sans', sans-serif" font-size="20" font-weight="bold" fill="#000" text-anchor="start" textLength="103.5" lengthAdjust="spacingAndGlyphs" transform="rotate(-90 711.7 332.4)">Weight (%)</text>
<text x="1655.3" y="23.8" font-family="'Liberation Serif', sans-serif" font-size="32.5" font-weight="bold" fill="#000" text-anchor="start" >(c)</text>
<rect x="1426.7" y="46.4" width="549.3" height="446.9" fill="none" stroke="#222" stroke-width="1.8"/>
<line x1="1426.6" y1="493.3" x2="1426.6" y2="501.7" stroke="#222" stroke-width="1.6" />
<text x="1426.6" y="520.5" font-family="'Liberation Sans', sans-serif" font-size="16.5" font-weight="normal" fill="#2a2a2a" text-anchor="middle" textLength="16" lengthAdjust="spacingAndGlyphs" >10</text>
<line x1="1476.5" y1="493.3" x2="1476.5" y2="497.8" stroke="#222" stroke-width="1.6" />
<line x1="1526.4" y1="493.3" x2="1526.4" y2="501.7" stroke="#222" stroke-width="1.6" />
<text x="1526.4" y="520.5" font-family="'Liberation Sans', sans-serif" font-size="16.5" font-weight="normal" fill="#2a2a2a" text-anchor="middle" textLength="16" lengthAdjust="spacingAndGlyphs" >20</text>
<line x1="1576.4" y1="493.3" x2="1576.4" y2="497.8" stroke="#222" stroke-width="1.6" />
<line x1="1626.3" y1="493.3" x2="1626.3" y2="501.7" stroke="#222" stroke-width="1.6" />
<text x="1626.3" y="520.5" font-family="'Liberation Sans', sans-serif" font-size="16.5" font-weight="normal" fill="#2a2a2a" text-anchor="middle" textLength="16" lengthAdjust="spacingAndGlyphs" >30</text>
<line x1="1676.2" y1="493.3" x2="1676.2" y2="497.8" stroke="#222" stroke-width="1.6" />
<line x1="1726.1" y1="493.3" x2="1726.1" y2="501.7" stroke="#222" stroke-width="1.6" />
<text x="1726.1" y="520.5" font-family="'Liberation Sans', sans-serif" font-size="16.5" font-weight="normal" fill="#2a2a2a" text-anchor="middle" textLength="16" lengthAdjust="spacingAndGlyphs" >40</text>
<line x1="1776.1" y1="493.3" x2="1776.1" y2="497.8" stroke="#222" stroke-width="1.6" />
<line x1="1826" y1="493.3" x2="1826" y2="501.7" stroke="#222" stroke-width="1.6" />
<text x="1826" y="520.5" font-family="'Liberation Sans', sans-serif" font-size="16.5" font-weight="normal" fill="#2a2a2a" text-anchor="middle" textLength="16" lengthAdjust="spacingAndGlyphs" >50</text>
<line x1="1875.9" y1="493.3" x2="1875.9" y2="497.8" stroke="#222" stroke-width="1.6" />
<line x1="1925.8" y1="493.3" x2="1925.8" y2="501.7" stroke="#222" stroke-width="1.6" />
<text x="1925.8" y="520.5" font-family="'Liberation Sans', sans-serif" font-size="16.5" font-weight="normal" fill="#2a2a2a" text-anchor="middle" textLength="16" lengthAdjust="spacingAndGlyphs" >60</text>
<line x1="1975.8" y1="493.3" x2="1975.8" y2="497.8" stroke="#222" stroke-width="1.6" />
<polygon points="1476.7,281.6 1478.7,282.7 1480.7,283.9 1482.7,285 1484.7,286.2 1486.7,287.3 1488.7,288.4 1490.7,289.6 1492.7,290.7 1494.7,291.9 1496.7,292.9 1498.7,293.9 1500.7,294.8 1502.7,295.7 1504.7,296.7 1506.7,297.6 1508.7,298.5 1510.7,299.5 1512.7,300.4 1514.7,301.2 1516.7,301.8 1518.7,302.3 1520.7,302.9 1522.7,303.4 1524.7,304 1526.7,304.5 1528.7,305.1 1530.7,305.6 1532.7,305.8 1534.7,305.4 1536.7,305 1538.7,304.5 1540.7,304.1 1542.7,303.6 1544.7,303.2 1546.7,302.7 1548.7,302.3 1550.7,301.1 1552.7,298.7 1554.7,296.3 1556.7,293.8 1558.7,291.4 1560.7,289 1562.7,284 1564.7,278.6 1566.7,273.2 1568.7,267.1 1570.7,254.6 1572.7,240.8 1574.7,224.3 1576.7,204.5 1578.7,177.6 1580.7,147.1 1582.7,117 1584.7,93.1 1586.7,85.6 1588.7,107.9 1590.7,142.4 1592.7,184.9 1594.7,220.9 1596.7,252.2 1598.7,275.1 1600.7,304.2 1602.7,318.4 1604.7,329.5 1606.7,340.6 1608.7,349.5 1610.7,354.5 1612.7,359.4 1614.7,364.3 1616.7,369.3 1618.7,372 1620.7,374.4 1622.7,376.8 1624.7,379.1 1626.7,381.5 1628.7,383.9 1630.7,386.3 1632.7,388.3 1634.7,389.7 1636.7,391.1 1638.7,392.5 1640.7,393.9 1642.7,395.3 1644.7,396.8 1646.7,398.2 1648.7,399.6 1650.7,400.7 1652.7,401.3 1654.7,401.9 1656.7,402.5 1658.7,403.1 1660.7,403.7 1662.7,404.3 1664.7,404.9 1666.7,405.4 1668.7,406 1670.7,406.6 1672.7,407.2 1674.7,407.8 1676.7,408.4 1678.7,408.6 1680.7,408.7 1682.7,408.8 1684.7,408.9 1686.7,409 1688.7,409.1 1690.7,409.3 1692.7,409.4 1694.7,409.5 1696.7,409.6 1698.7,409.7 1700.7,409.8 1702.7,409.9 1704.7,410 1706.7,410.1 1708.7,410.3 1710.7,410.4 1712.7,410.5 1714.7,410.4 1716.7,410.3 1718.7,410.2 1720.7,410.1 1722.7,409.9 1724.7,409.8 1726.7,408.9 1728.7,407.8 1730.7,406.7 1732.7,405.6 1734.7,404.5 1736.7,403.4 1738.7,402.3 1740.7,401.2 1742.7,400.1 1744.7,398.1 1746.7,394.4 1748.7,390.8 1750.7,387.1 1752.7,383.4 1754.7,381.3 1756.7,382.1 1758.7,382.9 1760.7,383.8 1762.7,384.6 1764.7,385.4 1766.7,386.2 1768.7,387.1 1770.7,387.9 1772.7,389.8 1774.7,391.8 1776.7,393.9 1778.7,396 1780.7,398.1 1782.7,399.6 1784.7,400 1786.7,400.5 1788.7,400.9 1790.7,401.4 1792.7,401.8 1794.7,402.3 1796.7,402.7 1798.7,403.2 1800.7,403.6 1802.7,403.8 1804.7,404 1806.7,404.1 1808.7,404.2 1810.7,404.4 1812.7,404.5 1814.7,404.7 1816.7,404.8 1818.7,405 1820.7,405.1 1822.7,405.2 1824.7,405.4 1826.7,405.5 1828.7,405.7 1830.7,405.8 1832.7,406 1834.7,406.1 1836.7,406.2 1838.7,406.4 1840.7,406.7 1842.7,407 1844.7,407.3 1846.7,407.6 1848.7,407.9 1850.7,408.2 1852.7,408.5 1854.7,408.8 1856.7,409.1 1858.7,409.4 1860.7,409.7 1862.7,410 1864.7,410.4 1866.7,410.8 1868.7,411.2 1870.7,411.7 1872.7,412.1 1874.7,412.6 1876.7,413 1878.7,413.5 1880.7,413.9 1882.7,414.4 1884.7,414.8 1886.7,415.3 1888.7,415.7 1890.7,416.2 1892.7,416.6 1894.7,417 1896.7,417.5 1898.7,417.9 1900.7,418.4 1902.7,418.8 1904.7,419.2 1906.7,419.7 1908.7,420.1 1910.7,420.5 1912.7,421 1914.7,421.4 1916.7,421.9 1918.7,422.3 1920.7,422.7 1922.7,423.2 1924.7,423.6 1924.7,432.1 1922.7,431.9 1920.7,431.6 1918.7,431.4 1916.7,431.2 1914.7,430.9 1912.7,430.7 1910.7,430.4 1908.7,430.2 1906.7,430 1904.7,429.7 1902.7,429.5 1900.7,429.3 1898.7,429 1896.7,428.8 1894.7,428.6 1892.7,428.3 1890.7,428.1 1888.7,427.8 1886.7,427.4 1884.7,427.1 1882.7,426.7 1880.7,426.4 1878.7,426 1876.7,425.7 1874.7,425.3 1872.7,425 1870.7,424.6 1868.7,424.3 1866.7,423.9 1864.7,423.6 1862.7,423.2 1860.7,422.9 1858.7,422.6 1856.7,422.3 1854.7,422 1852.7,421.7 1850.7,421.4 1848.7,421.1 1846.7,420.8 1844.7,420.5 1842.7,420.2 1840.7,419.9 1838.7,419.6 1836.7,419.4 1834.7,419.2 1832.7,419.1 1830.7,418.9 1828.7,418.7 1826.7,418.5 1824.7,418.4 1822.7,418.2 1820.7,418 1818.7,417.8 1816.7,417.7 1814.7,417.5 1812.7,417.3 1810.7,417.1 1808.7,417 1806.7,416.8 1804.7,416.6 1802.7,416.4 1800.7,416.2 1798.7,415.9 1796.7,415.5 1794.7,415.1 1792.7,414.7 1790.7,414.3 1788.7,413.9 1786.7,413.5 1784.7,413.1 1782.7,412.7 1780.7,411.1 1778.7,408.8 1776.7,406.5 1774.7,404.2 1772.7,401.9 1770.7,399.9 1768.7,399.1 1766.7,398.2 1764.7,397.4 1762.7,396.6 1760.7,395.8 1758.7,394.9 1756.7,394.1 1754.7,393.3 1752.7,395.5 1750.7,399.5 1748.7,403.4 1746.7,407.3 1744.7,411.2 1742.7,413.4 1740.7,414.6 1738.7,415.8 1736.7,417.1 1734.7,418.3 1732.7,419.5 1730.7,420.7 1728.7,421.9 1726.7,423.2 1724.7,424.2 1722.7,424.4 1720.7,424.7 1718.7,424.9 1716.7,425.1 1714.7,425.3 1712.7,425.5 1710.7,425.4 1708.7,425.3 1706.7,425.1 1704.7,425 1702.7,424.9 1700.7,424.8 1698.7,424.7 1696.7,424.6 1694.7,424.5 1692.7,424.4 1690.7,424.3 1688.7,424.1 1686.7,424 1684.7,423.9 1682.7,423.8 1680.7,423.7 1678.7,423.6 1676.7,423.4 1674.7,422.8 1672.7,422.2 1670.7,421.6 1668.7,421 1666.7,420.4 1664.7,419.9 1662.7,419.3 1660.7,418.7 1658.7,418.1 1656.7,417.5 1654.7,416.9 1652.7,416.3 1650.7,415.7 1648.7,414.5 1646.7,413.1 1644.7,411.6 1642.7,410.1 1640.7,408.6 1638.7,407.2 1636.7,405.7 1634.7,404.2 1632.7,402.7 1630.7,400.4 1628.7,397.8 1626.7,395.1 1624.7,392.4 1622.7,389.7 1620.7,387 1618.7,384.3 1616.7,381.1 1614.7,375.4 1612.7,369.7 1610.7,363.9 1608.7,358.2 1606.7,348.5 1604.7,336.8 1602.7,325 1600.7,310.2 1598.7,280.9 1596.7,257.1 1594.7,225.7 1592.7,189.7 1590.7,147.2 1588.7,113.1 1586.7,90 1584.7,98.1 1582.7,122 1580.7,151.9 1578.7,182.4 1576.7,209.5 1574.7,229.7 1572.7,247.5 1570.7,264 1568.7,280 1566.7,287.3 1564.7,293.7 1562.7,300 1560.7,305.8 1558.7,308.5 1556.7,311.1 1554.7,313.8 1552.7,316.4 1550.7,319.1 1548.7,320.3 1546.7,320.7 1544.7,321.2 1542.7,321.6 1540.7,322.1 1538.7,322.5 1536.7,323 1534.7,323.4 1532.7,323.8 1530.7,323.6 1528.7,323.1 1526.7,322.5 1524.7,322 1522.7,321.4 1520.7,320.9 1518.7,320.3 1516.7,319.8 1514.7,319.2 1512.7,318.3 1510.7,317.2 1508.7,316.2 1506.7,315.1 1504.7,314 1502.7,313 1500.7,311.9 1498.7,310.8 1496.7,309.8 1494.7,308.7 1492.7,307.5 1490.7,306.4 1488.7,305.2 1486.7,304.1 1484.7,303 1482.7,301.8 1480.7,300.7 1478.7,299.5 1476.7,298.4" fill="#000"/>
<polyline points="1476.7,300.3 1477.2,274.4 1477.7,301.5 1478.2,283.8 1478.7,303.5 1479.2,285.4 1479.7,297.7 1480.2,265.5 1480.7,308.7 1481.2,280.3 1481.7,297.9 1482.2,287.5 1482.7,315.5 1483.2,283.6 1483.7,305.1 1484.2,283.4 1484.7,304.9 1485.2,278.1 1485.7,310 1486.2,286.8 1486.7,304 1487.2,282 1487.7,311.2 1488.2,280.3 1488.7,301.7 1489.2,281.4 1489.7,314 1490.2,291.9 1490.7,312.1 1491.2,292.3 1491.7,314.9 1492.2,292.5 1492.7,305.2 1493.2,285 1493.7,311.2 1494.2,292.8 1494.7,306.7 1495.2,294.3 1495.7,308.3 1496.2,284.6 1496.7,309.9 1497.2,294.2 1497.7,317 1498.2,296 1498.7,309.9 1499.2,288.3 1499.7,311.4 1500.2,297 1500.7,311.3 1501.2,294.1 1501.7,320.5 1502.2,292.1 1502.7,311.6 1503.2,288.4 1503.7,313 1504.2,291 1504.7,312.8 1505.2,289.6 1505.7,316.1 1506.2,300.5 1506.7,314.4 1507.2,298.3 1507.7,319.4 1508.2,299.8 1508.7,313.4 1509.2,295.4 1509.7,320.7 1510.2,291.4 1510.7,313.7 1511.2,297.8 1511.7,316.3 1512.2,296.6 1512.7,319.2 1513.2,291.9 1513.7,323.9 1514.2,290.4 1514.7,327 1515.2,285.1 1515.7,321.9 1516.2,301.3 1516.7,317 1517.2,296.2 1517.7,325.7 1518.2,295.8 1518.7,321 1519.2,294.7 1519.7,322.2 1520.2,295.5 1520.7,325.1 1521.2,299.3 1521.7,318.4 1522.2,294.4 1522.7,327 1523.2,297.9 1523.7,323.6 1524.2,306.5 1524.7,318.6 1525.2,301.7 1525.7,327.4 1526.2,300.3 1526.7,335.7 1527.2,299.8 1527.7,321.2 1528.2,300.3 1528.7,330.7 1529.2,300.5 1529.7,325.1 1530.2,297.6 1530.7,324.8 1531.2,305.5 1531.7,326.5 1532.2,298.9 1532.7,332.2 1533.2,307.3 1533.7,323.4 1534.2,304 1534.7,325.9 1535.2,298.3 1535.7,325.2 1536.2,308.4 1536.7,319.7 1537.2,301.3 1537.7,334.5 1538.2,286.7 1538.7,321.8 1539.2,307.6 1539.7,324.2 1540.2,299.6 1540.7,330.5 1541.2,305.2 1541.7,336.6 1542.2,298.4 1542.7,321.3 1543.2,298.4 1543.7,325.5 1544.2,302 1544.7,329 1545.2,294.9 1545.7,318.9 1546.2,298.6 1546.7,321.8 1547.2,295.2 1547.7,328.8 1548.2,297.8 1548.7,325.7 1549.2,297.7 1549.7,319 1550.2,293 1550.7,322.2 1551.2,300.2 1551.7,324.8 1552.2,302 1552.7,319.6 1553.2,280.7 1553.7,312.2 1554.2,298.4 1554.7,319.9 1555.2,297.5 1555.7,317.7 1556.2,289.6 1556.7,313.5 1557.2,295.8 1557.7,312.6 1558.2,286.7 1558.7,311.2 1559.2,287.6 1559.7,308.2 1560.2,282.3 1560.7,312.4 1561.2,285.3 1561.7,302.1 1562.2,283 1562.7,297 1563.2,280.2 1563.7,302.4 1564.2,277.9 1564.7,291.2 1565.2,276 1565.7,297 1566.2,272.8 1566.7,288.7 1567.2,266 1567.7,284.4 1568.2,266.1 1568.7,278.5 1569.2,266.3 1569.7,271.5 1570.2,257.5 1570.7,266.2 1571.2,248.8 1571.7,257.2 1572.2,245.3 1572.7,248.2 1573.2,236.3 1573.7,238.2 1574.2,227.6 1574.7,230.6 1575.2,218.2 1575.7,219.3 1576.2,207.6 1576.7,209.5 1577.2,197.4 1577.7,200.2 1578.2,185.8 1578.7,183.9 1579.2,170.6 1579.7,167.4 1580.2,155.2 1580.7,155.2 1581.2,138.3 1581.7,139.2 1582.2,123.8 1582.7,122.7 1583.2,109.8 1583.7,111.7 1584.2,95.3 1584.7,97.6 1585.2,90.4 1585.7,93.9 1586.2,84.7 1586.7,92.1 1587.2,88.5 1587.7,100.4 1588.2,99.8 1588.7,112.1 1589.2,113.5 1589.7,128.5 1590.2,131.5 1590.7,146.8 1591.2,154 1591.7,170.2 1592.2,172.3 1592.7,190 1593.2,194.8 1593.7,210.8 1594.2,210.5 1594.7,227.4 1595.2,228.9 1595.7,244.4 1596.2,244.3 1596.7,257.5 1597.2,258.7 1597.7,273.1 1598.2,268 1598.7,280.6 1599.2,279.3 1599.7,295.9 1600.2,295.3 1600.7,313.2 1601.2,308.4 1601.7,324.7 1602.2,313.6 1602.7,325.5 1603.2,321.7 1603.7,329.9 1604.2,323.7 1604.7,337.9 1605.2,330.8 1605.7,344.5 1606.2,339 1606.7,356.9 1607.2,344.1 1607.7,353.7 1608.2,346.4 1608.7,362.2 1609.2,349.3 1609.7,361.5 1610.2,350.9 1610.7,363.9 1611.2,348.9 1611.7,365 1612.2,354.9 1612.7,374.1 1613.2,362.4 1613.7,377.5 1614.2,358.4 1614.7,376.8 1615.2,366 1615.7,383.5 1616.2,366.6 1616.7,385.5 1617.2,371.8 1617.7,384.3 1618.2,373.5 1618.7,382.8 1619.2,369.3 1619.7,385.4 1620.2,372.7 1620.7,389.1 1621.2,369.1 1621.7,387.8 1622.2,370.7 1622.7,392.7 1623.2,377.6 1623.7,393.5 1624.2,375.4 1624.7,391.4 1625.2,373.3 1625.7,401.9 1626.2,381.1 1626.7,398.2 1627.2,379.7 1627.7,394.4 1628.2,380.8 1628.7,398.5 1629.2,385.3 1629.7,403.6 1630.2,387.9 1630.7,405.6 1631.2,382.1 1631.7,403.1 1632.2,382.7 1632.7,406.4 1633.2,388.3 1633.7,408.1 1634.2,388 1634.7,402.2 1635.2,392.3 1635.7,407.7 1636.2,386.7 1636.7,410.6 1637.2,392.3 1637.7,404.2 1638.2,387.7 1638.7,407 1639.2,392.2 1639.7,408.6 1640.2,389.3 1640.7,415.1 1641.2,387.8 1641.7,414.7 1642.2,394.8 1642.7,416.8 1643.2,396.2 1643.7,411.6 1644.2,395.3 1644.7,410.5 1645.2,391.8 1645.7,418 1646.2,399.1 1646.7,419.3 1647.2,401.4 1647.7,416.4 1648.2,392.1 1648.7,419.9 1649.2,397.3 1649.7,413 1650.2,395.9 1650.7,413.5 1651.2,402.5 1651.7,419.8 1652.2,401.9 1652.7,418.7 1653.2,400.4 1653.7,423.8 1654.2,399.6 1654.7,421.4 1655.2,395.4 1655.7,422.8 1656.2,396.4 1656.7,423.2 1657.2,395.6 1657.7,420.2 1658.2,397.5 1658.7,419.4 1659.2,398.5 1659.7,419.2 1660.2,404.5 1660.7,418.6 1661.2,406.3 1661.7,417.1 1662.2,399 1662.7,416.8 1663.2,401.3 1663.7,416.8 1664.2,405.9 1664.7,419.2 1665.2,401.8 1665.7,419 1666.2,406.6 1666.7,420.6 1667.2,400 1667.7,420.4 1668.2,399.3 1668.7,423.7 1669.2,404.2 1669.7,418.7 1670.2,401.1 1670.7,424.1 1671.2,407 1671.7,425.8 1672.2,410.1 1672.7,423 1673.2,402.9 1673.7,421.1 1674.2,407.4 1674.7,428.9 1675.2,404.3 1675.7,422.8 1676.2,409.8 1676.7,420.3 1677.2,402.6 1677.7,421.3 1678.2,404.1 1678.7,425.6 1679.2,401.6 1679.7,429.6 1680.2,403.4 1680.7,430.3 1681.2,403.1 1681.7,426.4 1682.2,410.2 1682.7,424 1683.2,411.2 1683.7,425.7 1684.2,408.2 1684.7,421.9 1685.2,407.2 1685.7,429.7 1686.2,412 1686.7,428.5 1687.2,406.2 1687.7,421.1 1688.2,403.8 1688.7,427.6 1689.2,408.3 1689.7,424.2 1690.2,408.2 1690.7,423.9 1691.2,404.6 1691.7,431.2 1692.2,404.8 1692.7,430 1693.2,411 1693.7,428.5 1694.2,410.7 1694.7,430.3 1695.2,411.7 1695.7,423.1 1696.2,408.4 1696.7,431.3 1697.2,407.3 1697.7,429.7 1698.2,408.7 1698.7,436.5 1699.2,405.4 1699.7,430 1700.2,398.6 1700.7,425.3 1701.2,411.8 1701.7,427.2 1702.2,404.3 1702.7,423.5 1703.2,403.5 1703.7,425.6 1704.2,411.6 1704.7,432.4 1705.2,405.6 1705.7,424.1 1706.2,406.6 1706.7,422.9 1707.2,407.2 1707.7,425.6 1708.2,409.5 1708.7,423.5 1709.2,412 1709.7,428 1710.2,407.5 1710.7,431.9 1711.2,404.8 1711.7,423.6 1712.2,410.5 1712.7,424.9 1713.2,404.8 1713.7,428.1 1714.2,413.2 1714.7,432.6 1715.2,406.5 1715.7,429.2 1716.2,409.4 1716.7,435.2 1717.2,408.4 1717.7,426 1718.2,411.5 1718.7,424.6 1719.2,409.7 1719.7,422.1 1720.2,411.6 1720.7,427.8 1721.2,408.8 1721.7,428.6 1722.2,405.3 1722.7,431.7 1723.2,404.1 1723.7,425.8 1724.2,403.6 1724.7,426.6 1725.2,403.5 1725.7,421.3 1726.2,403 1726.7,426.2 1727.2,408.5 1727.7,420.3 1728.2,406.5 1728.7,423 1729.2,403.5 1729.7,420.8 1730.2,405.9 1730.7,418.5 1731.2,399.7 1731.7,425.8 1732.2,400.8 1732.7,424 1733.2,399.3 1733.7,423.8 1734.2,402.4 1734.7,415.4 1735.2,404.2 1735.7,415.4 1736.2,398.6 1736.7,417.7 1737.2,389 1737.7,416.6 1738.2,396.4 1738.7,417.5 1739.2,402 1739.7,421 1740.2,396.3 1740.7,416.3 1741.2,395.4 1741.7,413.1 1742.2,401.4 1742.7,411.1 1743.2,395.8 1743.7,418.5 1744.2,395.1 1744.7,415 1745.2,395.8 1745.7,408.6 1746.2,391.5 1746.7,406.3 1747.2,390.1 1747.7,406.1 1748.2,386.4 1748.7,402.8 1749.2,384.2 1749.7,401.3 1750.2,389.8 1750.7,400.8 1751.2,375.3 1751.7,397.4 1752.2,379.9 1752.7,395.5 1753.2,382.9 1753.7,395.8 1754.2,376 1754.7,391.1 1755.2,377.6 1755.7,399.1 1756.2,382.9 1756.7,397.1 1757.2,379.2 1757.7,396.4 1758.2,378 1758.7,396.9 1759.2,384.2 1759.7,394.3 1760.2,384.1 1760.7,399.8 1761.2,379.7 1761.7,397.8 1762.2,381.9 1762.7,394.4 1763.2,381.2 1763.7,401.9 1764.2,375.2 1764.7,398.6 1765.2,385.9 1765.7,395.9 1766.2,383.7 1766.7,402.5 1767.2,387.7 1767.7,396.5 1768.2,384.1 1768.7,398.8 1769.2,389 1769.7,398.4 1770.2,388.8 1770.7,404.4 1771.2,390.2 1771.7,401.4 1772.2,379.2 1772.7,406 1773.2,391.6 1773.7,411.7 1774.2,386.1 1774.7,405.1 1775.2,391.2 1775.7,403.1 1776.2,389.2 1776.7,406 1777.2,392.1 1777.7,409.2 1778.2,394.8 1778.7,415.1 1779.2,398.8 1779.7,413.2 1780.2,397.1 1780.7,416.4 1781.2,393.1 1781.7,413.2 1782.2,398.6 1782.7,412 1783.2,400.7 1783.7,411.7 1784.2,400.6 1784.7,413.3 1785.2,393.6 1785.7,418.6 1786.2,399.5 1786.7,417.2 1787.2,391.8 1787.7,413.4 1788.2,395 1788.7,413.7 1789.2,402.3 1789.7,414.7 1790.2,397.3 1790.7,411.8 1791.2,400.7 1791.7,419.9 1792.2,397.4 1792.7,412.5 1793.2,393.5 1793.7,424.4 1794.2,401 1794.7,413.6 1795.2,402.7 1795.7,418.6 1796.2,403.4 1796.7,419.2 1797.2,402 1797.7,415 1798.2,402.6 1798.7,427.2 1799.2,400.9 1799.7,422.1 1800.2,400.2 1800.7,415.5 1801.2,400.4 1801.7,421.5 1802.2,400.8 1802.7,417.6 1803.2,406 1803.7,416.8 1804.2,404.1 1804.7,417.6 1805.2,405.1 1805.7,416.2 1806.2,403.6 1806.7,415.5 1807.2,400.5 1807.7,426.8 1808.2,403.6 1808.7,418 1809.2,402.5 1809.7,418.6 1810.2,394.7 1810.7,422.5 1811.2,404.7 1811.7,416.3 1812.2,401.6 1812.7,417.9 1813.2,398.7 1813.7,420.4 1814.2,403.6 1814.7,417.3 1815.2,399.4 1815.7,425.9 1816.2,402.8 1816.7,418.3 1817.2,406.2 1817.7,417.2 1818.2,393.9 1818.7,418.7 1819.2,403.2 1819.7,420.2 1820.2,402.6 1820.7,424.2 1821.2,404.7 1821.7,418.3 1822.2,401.5 1822.7,424.3 1823.2,406.5 1823.7,420.1 1824.2,404.7 1824.7,422.5 1825.2,405.9 1825.7,418.7 1826.2,403.5 1826.7,416.4 1827.2,407.3 1827.7,416.9 1828.2,401.2 1828.7,417.5 1829.2,400.4 1829.7,418.4 1830.2,401.1 1830.7,422.8 1831.2,401.9 1831.7,419.3 1832.2,400.8 1832.7,421.6 1833.2,402.2 1833.7,424.1 1834.2,407.6 1834.7,422.7 1835.2,394.6 1835.7,425.3 1836.2,407.7 1836.7,420.6 1837.2,405.3 1837.7,431.9 1838.2,396.8 1838.7,423.7 1839.2,408.1 1839.7,417.2 1840.2,404.8 1840.7,420 1841.2,401.6 1841.7,420.9 1842.2,402.5 1842.7,421.1 1843.2,404.7 1843.7,418.9 1844.2,408.9 1844.7,420.1 1845.2,409 1845.7,418.1 1846.2,408.9 1846.7,420.6 1847.2,405.9 1847.7,420.6 1848.2,410 1848.7,421.2 1849.2,409 1849.7,427.8 1850.2,402.8 1850.7,422.5 1851.2,407.3 1851.7,424 1852.2,405.4 1852.7,427.7 1853.2,402 1853.7,426.9 1854.2,399.9 1854.7,420.4 1855.2,408.3 1855.7,422.3 1856.2,411.7 1856.7,433.5 1857.2,404.4 1857.7,426.6 1858.2,404.6 1858.7,427.1 1859.2,411.3 1859.7,423.8 1860.2,410.1 1860.7,420.4 1861.2,410.4 1861.7,423.8 1862.2,405.1 1862.7,426.5 1863.2,410.3 1863.7,423.7 1864.2,409.9 1864.7,422.8 1865.2,408.1 1865.7,422.6 1866.2,412.1 1866.7,434.8 1867.2,409.9 1867.7,426.3 1868.2,411.9 1868.7,424.5 1869.2,413.1 1869.7,425.7 1870.2,412.2 1870.7,428.4 1871.2,412 1871.7,430.7 1872.2,413 1872.7,431.3 1873.2,409.1 1873.7,428.3 1874.2,409.5 1874.7,430.4 1875.2,410.8 1875.7,423.9 1876.2,409.4 1876.7,429 1877.2,412.3 1877.7,428.6 1878.2,402.1 1878.7,427.4 1879.2,410.9 1879.7,424.9 1880.2,407.6 1880.7,426.5 1881.2,407.9 1881.7,431.6 1882.2,408.2 1882.7,426.2 1883.2,411.4 1883.7,431.6 1884.2,412.8 1884.7,425.1 1885.2,411.3 1885.7,431.7 1886.2,413.1 1886.7,426.6 1887.2,412.4 1887.7,429.8 1888.2,413.9 1888.7,432.1 1889.2,411.8 1889.7,433.2 1890.2,417.3 1890.7,437.1 1891.2,411.5 1891.7,426.7 1892.2,415.7 1892.7,431 1893.2,418.5 1893.7,427.7 1894.2,412.1 1894.7,427.8 1895.2,408.5 1895.7,428.8 1896.2,417.5 1896.7,432 1897.2,418.9 1897.7,430.3 1898.2,419.2 1898.7,431.5 1899.2,418.8 1899.7,432.2 1900.2,417.7 1900.7,430.1 1901.2,415.9 1901.7,433.4 1902.2,417.4 1902.7,434.4 1903.2,415.8 1903.7,431.8 1904.2,414.8 1904.7,433.9 1905.2,418.1 1905.7,430.5 1906.2,417.3 1906.7,428.3 1907.2,419.9 1907.7,434.9 1908.2,417.1 1908.7,429.9 1909.2,421.4 1909.7,430 1910.2,420.1 1910.7,434.3 1911.2,418.9 1911.7,434.7 1912.2,420.4 1912.7,433.6 1913.2,420.8 1913.7,439.4 1914.2,420.1 1914.7,432.1 1915.2,419 1915.7,435.5 1916.2,417.1 1916.7,434.7 1917.2,419.3 1917.7,429.8 1918.2,421.5 1918.7,430.9 1919.2,423 1919.7,430.6 1920.2,419.8 1920.7,430.8 1921.2,420.8 1921.7,431.5 1922.2,420.4 1922.7,430.8 1923.2,425 1923.7,435.9 1924.2,425.1 1924.7,433.6 1925.2,424.8" fill="none" stroke="#000" stroke-width="1.5" stroke-linejoin="round" stroke-linecap="round" />
<polygon points="1476.7,357.2 1478.7,358.2 1480.7,359.2 1482.7,360.2 1484.7,361.2 1486.7,362.2 1488.7,363.2 1490.7,364.2 1492.7,365.2 1494.7,366.2 1496.7,367.3 1498.7,368.4 1500.7,369.4 1502.7,370.5 1504.7,371.6 1506.7,372.7 1508.7,373.7 1510.7,374.8 1512.7,375.9 1514.7,377 1516.7,378 1518.7,379.1 1520.7,380.2 1522.7,381.2 1524.7,382.3 1526.7,383.4 1528.7,384.4 1530.7,385.5 1532.7,386 1534.7,385.4 1536.7,384.8 1538.7,384.2 1540.7,383.6 1542.7,383 1544.7,382.5 1546.7,381.9 1548.7,381.3 1550.7,380 1552.7,377.5 1554.7,374.9 1556.7,372.4 1558.7,369.9 1560.7,367.3 1562.7,364.8 1564.7,362.3 1566.7,354.3 1568.7,345.4 1570.7,335 1572.7,321.8 1574.7,308.7 1576.7,294.3 1578.7,279.7 1580.7,261.1 1582.7,242.1 1584.7,225.4 1586.7,218.1 1588.7,239.4 1590.7,267.9 1592.7,295.9 1594.7,318.9 1596.7,334.8 1598.7,349.5 1600.7,364 1602.7,378.5 1604.7,393 1606.7,398.8 1608.7,402.9 1610.7,407.1 1612.7,411.3 1614.7,414.5 1616.7,415.9 1618.7,417.2 1620.7,418.6 1622.7,420 1624.7,421.4 1626.7,422.7 1628.7,424.1 1630.7,425.5 1632.7,426.6 1634.7,427.2 1636.7,427.8 1638.7,428.4 1640.7,429 1642.7,429.6 1644.7,430.2 1646.7,430.8 1648.7,431.3 1650.7,431.9 1652.7,432.5 1654.7,433.1 1656.7,433.7 1658.7,434.3 1660.7,434.4 1662.7,434.5 1664.7,434.6 1666.7,434.6 1668.7,434.7 1670.7,434.7 1672.7,434.8 1674.7,434.8 1676.7,434.9 1678.7,434.9 1680.7,435 1682.7,435.1 1684.7,435.1 1686.7,435.2 1688.7,435.2 1690.7,435.3 1692.7,435.3 1694.7,435.4 1696.7,435.4 1698.7,435.3 1700.7,435.3 1702.7,435.2 1704.7,435.2 1706.7,435.1 1708.7,435.1 1710.7,435 1712.7,435 1714.7,434.9 1716.7,434.9 1718.7,434.8 1720.7,434.8 1722.7,434.8 1724.7,434.7 1726.7,433.9 1728.7,433 1730.7,432.1 1732.7,431.2 1734.7,430.3 1736.7,429.3 1738.7,428.4 1740.7,427.5 1742.7,426.6 1744.7,425.3 1746.7,423.5 1748.7,421.6 1750.7,419.7 1752.7,417.8 1754.7,415.9 1756.7,414.9 1758.7,415.6 1760.7,416.3 1762.7,417 1764.7,417.7 1766.7,418.4 1768.7,419.1 1770.7,419.8 1772.7,420.5 1774.7,421.2 1776.7,421.8 1778.7,422 1780.7,422.3 1782.7,422.5 1784.7,422.8 1786.7,423.1 1788.7,423.3 1790.7,423.6 1792.7,423.8 1794.7,424.1 1796.7,424.3 1798.7,424.6 1800.7,424.8 1802.7,425.1 1804.7,425.3 1806.7,425.6 1808.7,425.8 1810.7,426.1 1812.7,426.3 1814.7,426.5 1816.7,426.4 1818.7,426.3 1820.7,426.3 1822.7,426.2 1824.7,426.1 1826.7,426 1828.7,426 1830.7,425.9 1832.7,425.8 1834.7,425.7 1836.7,425.7 1838.7,425.6 1840.7,425.5 1842.7,425.4 1844.7,425.4 1846.7,425.3 1848.7,425.2 1850.7,425.1 1852.7,425.2 1854.7,425.6 1856.7,425.9 1858.7,426.2 1860.7,426.6 1862.7,426.9 1864.7,427.3 1866.7,427.6 1868.7,428 1870.7,428.3 1872.7,428.6 1874.7,429 1876.7,429.3 1878.7,429.7 1880.7,430 1882.7,430.4 1884.7,430.7 1886.7,431 1888.7,431.4 1890.7,431.6 1892.7,431.8 1894.7,431.9 1896.7,432.1 1898.7,432.2 1900.7,432.4 1902.7,432.5 1904.7,432.6 1906.7,432.8 1908.7,432.9 1910.7,433.1 1912.7,433.2 1914.7,433.3 1916.7,433.5 1918.7,433.6 1920.7,433.8 1922.7,433.9 1924.7,434 1924.7,444.9 1922.7,444.8 1920.7,444.7 1918.7,444.7 1916.7,444.6 1914.7,444.5 1912.7,444.4 1910.7,444.4 1908.7,444.3 1906.7,444.2 1904.7,444.1 1902.7,444.1 1900.7,444 1898.7,443.9 1896.7,443.8 1894.7,443.8 1892.7,443.7 1890.7,443.6 1888.7,443.4 1886.7,443.2 1884.7,442.9 1882.7,442.7 1880.7,442.4 1878.7,442.2 1876.7,442 1874.7,441.7 1872.7,441.5 1870.7,441.2 1868.7,441 1866.7,440.7 1864.7,440.5 1862.7,440.2 1860.7,440 1858.7,439.7 1856.7,439.5 1854.7,439.2 1852.7,439 1850.7,438.9 1848.7,438.9 1846.7,438.8 1844.7,438.8 1842.7,438.8 1840.7,438.8 1838.7,438.8 1836.7,438.7 1834.7,438.7 1832.7,438.7 1830.7,438.7 1828.7,438.7 1826.7,438.6 1824.7,438.6 1822.7,438.6 1820.7,438.6 1818.7,438.5 1816.7,438.5 1814.7,438.5 1812.7,438.4 1810.7,438.1 1808.7,437.9 1806.7,437.7 1804.7,437.5 1802.7,437.3 1800.7,437 1798.7,436.8 1796.7,436.6 1794.7,436.4 1792.7,436.1 1790.7,435.9 1788.7,435.7 1786.7,435.5 1784.7,435.3 1782.7,435 1780.7,434.8 1778.7,434.6 1776.7,434.4 1774.7,433.8 1772.7,433.1 1770.7,432.4 1768.7,431.7 1766.7,431 1764.7,430.3 1762.7,429.6 1760.7,428.9 1758.7,428.2 1756.7,427.5 1754.7,428.5 1752.7,430.2 1750.7,432 1748.7,433.8 1746.7,435.6 1744.7,437.4 1742.7,438.6 1740.7,439.5 1738.7,440.4 1736.7,441.3 1734.7,442.3 1732.7,443.2 1730.7,444.1 1728.7,445 1726.7,445.9 1724.7,446.7 1722.7,446.8 1720.7,447 1718.7,447.1 1716.7,447.2 1714.7,447.4 1712.7,447.5 1710.7,447.6 1708.7,447.7 1706.7,447.9 1704.7,448 1702.7,448.1 1700.7,448.2 1698.7,448.4 1696.7,448.5 1694.7,448.6 1692.7,448.5 1690.7,448.5 1688.7,448.4 1686.7,448.4 1684.7,448.3 1682.7,448.3 1680.7,448.2 1678.7,448.1 1676.7,448.1 1674.7,448 1672.7,448 1670.7,447.9 1668.7,447.9 1666.7,447.8 1664.7,447.8 1662.7,447.7 1660.7,447.6 1658.7,447.5 1656.7,446.9 1654.7,446.3 1652.7,445.7 1650.7,445.1 1648.7,444.5 1646.7,444 1644.7,443.4 1642.7,442.8 1640.7,442.2 1638.7,441.6 1636.7,441 1634.7,440.4 1632.7,439.8 1630.7,438.6 1628.7,437.1 1626.7,435.6 1624.7,434.1 1622.7,432.6 1620.7,431.1 1618.7,429.6 1616.7,428 1614.7,426.5 1612.7,422.9 1610.7,418.2 1608.7,413.5 1606.7,408.8 1604.7,402.5 1602.7,387 1600.7,371.5 1598.7,356 1596.7,340.7 1594.7,324.1 1592.7,300.4 1590.7,272.1 1588.7,243.3 1586.7,221.2 1584.7,229.6 1582.7,246.3 1580.7,265.9 1578.7,285.2 1576.7,300.4 1574.7,315.5 1572.7,330.4 1570.7,345.2 1568.7,357.6 1566.7,368.7 1564.7,378.5 1562.7,381 1560.7,383.5 1558.7,386.1 1556.7,388.6 1554.7,391.1 1552.7,393.7 1550.7,396.2 1548.7,397.4 1546.7,398 1544.7,398.5 1542.7,399 1540.7,399.5 1538.7,400.1 1536.7,400.6 1534.7,401.1 1532.7,401.6 1530.7,401.2 1528.7,400.3 1526.7,399.3 1524.7,398.4 1522.7,397.5 1520.7,396.5 1518.7,395.6 1516.7,394.7 1514.7,393.7 1512.7,392.7 1510.7,391.5 1508.7,390.4 1506.7,389.2 1504.7,388.1 1502.7,386.9 1500.7,385.8 1498.7,384.6 1496.7,383.5 1494.7,382.4 1492.7,381.3 1490.7,380.3 1488.7,379.2 1486.7,378.1 1484.7,377.1 1482.7,376 1480.7,374.9 1478.7,373.9 1476.7,372.8" fill="#f00000"/>
<polyline points="1476.7,379.8 1477.2,350.8 1477.7,376.6 1478.2,355.3 1478.7,372.7 1479.2,359.3 1479.7,371.4 1480.2,354.3 1480.7,377.4 1481.2,358.7 1481.7,380.9 1482.2,355.9 1482.7,383.6 1483.2,355.3 1483.7,379.6 1484.2,360.7 1484.7,379.1 1485.2,358.1 1485.7,381.5 1486.2,363.3 1486.7,384 1487.2,364.5 1487.7,375.8 1488.2,359.8 1488.7,379.6 1489.2,363.5 1489.7,385.2 1490.2,364.4 1490.7,385.8 1491.2,358.4 1491.7,383.7 1492.2,361.6 1492.7,379.9 1493.2,368.2 1493.7,378.8 1494.2,361.5 1494.7,388.3 1495.2,363.7 1495.7,388.2 1496.2,359.2 1496.7,382.3 1497.2,365.6 1497.7,391.4 1498.2,369 1498.7,387.4 1499.2,365.7 1499.7,384.7 1500.2,362.1 1500.7,386.4 1501.2,363.7 1501.7,390.9 1502.2,365.6 1502.7,391 1503.2,370.8 1503.7,393.1 1504.2,368.3 1504.7,385.9 1505.2,371.4 1505.7,395 1506.2,364.7 1506.7,392.4 1507.2,373.6 1507.7,391.9 1508.2,360.7 1508.7,396.2 1509.2,367.3 1509.7,395.5 1510.2,372.7 1510.7,389 1511.2,372.9 1511.7,395 1512.2,372.9 1512.7,399.8 1513.2,369.2 1513.7,395.7 1514.2,372.2 1514.7,393.7 1515.2,376.6 1515.7,402.1 1516.2,376.7 1516.7,400.8 1517.2,375.3 1517.7,394.9 1518.2,379.7 1518.7,402.1 1519.2,381.5 1519.7,394 1520.2,378.2 1520.7,396.1 1521.2,381 1521.7,413.1 1522.2,381.2 1522.7,395.8 1523.2,383.8 1523.7,399.1 1524.2,382.1 1524.7,405.5 1525.2,384 1525.7,405.9 1526.2,386.2 1526.7,397.6 1527.2,381.7 1527.7,402.9 1528.2,378.2 1528.7,403.6 1529.2,386.5 1529.7,407 1530.2,383.8 1530.7,404.8 1531.2,379.5 1531.7,402.4 1532.2,381.2 1532.7,401.8 1533.2,378.2 1533.7,399.5 1534.2,380.2 1534.7,398.3 1535.2,380.5 1535.7,403.5 1536.2,383.7 1536.7,400.8 1537.2,378.8 1537.7,401.7 1538.2,384.1 1538.7,401.7 1539.2,378.2 1539.7,407.4 1540.2,380.1 1540.7,403.1 1541.2,375.7 1541.7,400.8 1542.2,377 1542.7,400 1543.2,385.8 1543.7,406.5 1544.2,377.9 1544.7,398.2 1545.2,378.8 1545.7,401.6 1546.2,379.2 1546.7,395.4 1547.2,383.4 1547.7,397.9 1548.2,376.2 1548.7,400.2 1549.2,380.5 1549.7,396.9 1550.2,378.4 1550.7,401.9 1551.2,363.5 1551.7,398.1 1552.2,379.7 1552.7,401.2 1553.2,378.9 1553.7,400.2 1554.2,369.5 1554.7,388.7 1555.2,369.4 1555.7,393.8 1556.2,373.3 1556.7,396.6 1557.2,365.1 1557.7,392.4 1558.2,373.1 1558.7,384.7 1559.2,371.9 1559.7,383.1 1560.2,371.4 1560.7,388.9 1561.2,363.5 1561.7,386.2 1562.2,359.7 1562.7,384.3 1563.2,357.2 1563.7,386.2 1564.2,362.5 1564.7,382.1 1565.2,362 1565.7,379.7 1566.2,358.2 1566.7,375.6 1567.2,350.8 1567.7,368 1568.2,345.4 1568.7,363.1 1569.2,338.7 1569.7,354.5 1570.2,335.1 1570.7,349.7 1571.2,330.2 1571.7,337.2 1572.2,320.8 1572.7,329.2 1573.2,318.1 1573.7,323.8 1574.2,310.6 1574.7,314.3 1575.2,302 1575.7,310 1576.2,296.7 1576.7,302.4 1577.2,291.7 1577.7,292.7 1578.2,282.6 1578.7,285.4 1579.2,275.5 1579.7,278.3 1580.2,264.8 1580.7,267.4 1581.2,254.1 1581.7,254.4 1582.2,244.8 1582.7,245.7 1583.2,236.5 1583.7,239.9 1584.2,228.6 1584.7,229.2 1585.2,221.7 1585.7,226.4 1586.2,218.7 1586.7,222.6 1587.2,220.2 1587.7,230.9 1588.2,230.6 1588.7,243.3 1589.2,244.9 1589.7,258.6 1590.2,259.1 1590.7,272 1591.2,274.7 1591.7,289.5 1592.2,288.4 1592.7,299.8 1593.2,300.3 1593.7,314.5 1594.2,311.7 1594.7,326.7 1595.2,322.1 1595.7,334.8 1596.2,330.1 1596.7,343 1597.2,338.1 1597.7,350.5 1598.2,346.9 1598.7,355.2 1599.2,350.4 1599.7,362.8 1600.2,360.2 1600.7,373.9 1601.2,365.3 1601.7,382.4 1602.2,371.4 1602.7,386.9 1603.2,379.2 1603.7,397.5 1604.2,385.9 1604.7,410.2 1605.2,392.7 1605.7,410.3 1606.2,398.2 1606.7,411.4 1607.2,401.6 1607.7,413.2 1608.2,396.7 1608.7,417 1609.2,404.3 1609.7,414.9 1610.2,405 1610.7,416.8 1611.2,399.3 1611.7,426 1612.2,411.2 1612.7,422.4 1613.2,409.5 1613.7,424.5 1614.2,415.1 1614.7,436.8 1615.2,415.5 1615.7,424.8 1616.2,405.9 1616.7,428.3 1617.2,413.3 1617.7,433.8 1618.2,412.7 1618.7,427.8 1619.2,419.4 1619.7,429 1620.2,413.4 1620.7,432.8 1621.2,411.4 1621.7,442.3 1622.2,416.7 1622.7,430 1623.2,420.2 1623.7,431 1624.2,415.1 1624.7,437.4 1625.2,416.8 1625.7,436.6 1626.2,417.9 1626.7,439.3 1627.2,416.9 1627.7,436.5 1628.2,424.4 1628.7,442.7 1629.2,419.2 1629.7,440.4 1630.2,419.5 1630.7,436.7 1631.2,426.5 1631.7,437.7 1632.2,423.9 1632.7,439.6 1633.2,428.6 1633.7,453.1 1634.2,428.2 1634.7,438.2 1635.2,421.4 1635.7,439.5 1636.2,422.4 1636.7,439.7 1637.2,423.8 1637.7,447.6 1638.2,419.3 1638.7,443.9 1639.2,429.2 1639.7,443.4 1640.2,426.1 1640.7,446.2 1641.2,424.4 1641.7,447.3 1642.2,427.1 1642.7,444.3 1643.2,423.6 1643.7,443.5 1644.2,424.8 1644.7,447 1645.2,418.9 1645.7,445.2 1646.2,427.5 1646.7,456.6 1647.2,426.3 1647.7,443.6 1648.2,432.1 1648.7,445 1649.2,427.8 1649.7,445.2 1650.2,425.7 1650.7,445.3 1651.2,431.9 1651.7,450.4 1652.2,428.4 1652.7,448.3 1653.2,429.8 1653.7,449 1654.2,428.4 1654.7,447.4 1655.2,424.8 1655.7,450.3 1656.2,429.4 1656.7,446.9 1657.2,436.4 1657.7,453.8 1658.2,433.3 1658.7,450.1 1659.2,433.9 1659.7,451.4 1660.2,430.7 1660.7,448.8 1661.2,435 1661.7,451.9 1662.2,422.1 1662.7,450.8 1663.2,428.4 1663.7,452 1664.2,425 1664.7,459.7 1665.2,431.8 1665.7,452 1666.2,434.7 1666.7,447.3 1667.2,432.8 1667.7,453.2 1668.2,434 1668.7,445.9 1669.2,429.2 1669.7,448.5 1670.2,430.4 1670.7,447.7 1671.2,431.4 1671.7,450 1672.2,430.8 1672.7,450.6 1673.2,431.8 1673.7,454.6 1674.2,430.2 1674.7,448.8 1675.2,435.4 1675.7,449.4 1676.2,432.9 1676.7,451.4 1677.2,432.7 1677.7,453.5 1678.2,431.5 1678.7,449.2 1679.2,431.4 1679.7,446.1 1680.2,424.9 1680.7,449 1681.2,435.9 1681.7,449.7 1682.2,435.4 1682.7,452.6 1683.2,437.7 1683.7,453.9 1684.2,434.4 1684.7,451.9 1685.2,426.1 1685.7,453 1686.2,429.5 1686.7,454.4 1687.2,434.1 1687.7,450.7 1688.2,436.2 1688.7,447 1689.2,425.6 1689.7,446.1 1690.2,424.5 1690.7,448.4 1691.2,433 1691.7,446.3 1692.2,429 1692.7,452 1693.2,435.8 1693.7,448.3 1694.2,426.2 1694.7,455 1695.2,435 1695.7,448.9 1696.2,435.1 1696.7,450 1697.2,436.8 1697.7,448.9 1698.2,430 1698.7,449.4 1699.2,437.4 1699.7,446.3 1700.2,434 1700.7,451.5 1701.2,434.9 1701.7,449.3 1702.2,437.7 1702.7,453.9 1703.2,433.3 1703.7,458.8 1704.2,431.3 1704.7,446.6 1705.2,437.7 1705.7,452.7 1706.2,430 1706.7,450.9 1707.2,432.5 1707.7,452.8 1708.2,432.7 1708.7,445.6 1709.2,434.5 1709.7,453.8 1710.2,436.3 1710.7,449.3 1711.2,435.2 1711.7,453.3 1712.2,432.7 1712.7,451.5 1713.2,430.7 1713.7,446.1 1714.2,428.8 1714.7,452.7 1715.2,431.9 1715.7,451.2 1716.2,434.4 1716.7,459.4 1717.2,436.6 1717.7,448.5 1718.2,433.5 1718.7,449.1 1719.2,431.4 1719.7,446.5 1720.2,434.5 1720.7,459 1721.2,436 1721.7,451.7 1722.2,432.4 1722.7,446.8 1723.2,431.5 1723.7,451.8 1724.2,436.1 1724.7,446 1725.2,432.8 1725.7,446.8 1726.2,434.2 1726.7,444.8 1727.2,435.1 1727.7,443.1 1728.2,428.9 1728.7,445.4 1729.2,428.4 1729.7,447.3 1730.2,432.1 1730.7,443.8 1731.2,430 1731.7,442.8 1732.2,433.7 1732.7,442 1733.2,426.5 1733.7,445.7 1734.2,432.4 1734.7,446.3 1735.2,429.9 1735.7,445.3 1736.2,428.8 1736.7,443.5 1737.2,430.4 1737.7,446.2 1738.2,429.7 1738.7,443.2 1739.2,426.8 1739.7,442.9 1740.2,426.5 1740.7,441.2 1741.2,426.8 1741.7,441.8 1742.2,417.5 1742.7,437.5 1743.2,427.5 1743.7,439.7 1744.2,425.6 1744.7,437.7 1745.2,425.3 1745.7,440.1 1746.2,425.8 1746.7,434.2 1747.2,420.8 1747.7,438.8 1748.2,418.9 1748.7,432.3 1749.2,416.9 1749.7,430.6 1750.2,407.1 1750.7,429.6 1751.2,414.7 1751.7,435.7 1752.2,414.1 1752.7,435.2 1753.2,413 1753.7,437.7 1754.2,412.4 1754.7,430.2 1755.2,417.8 1755.7,430 1756.2,413 1756.7,429.1 1757.2,410.6 1757.7,432.6 1758.2,415.1 1758.7,430.2 1759.2,418.4 1759.7,432.6 1760.2,412 1760.7,434.5 1761.2,416.8 1761.7,432.7 1762.2,419 1762.7,427.1 1763.2,415.7 1763.7,435 1764.2,415.3 1764.7,443.9 1765.2,415.7 1765.7,432.9 1766.2,420 1766.7,437 1767.2,418.6 1767.7,437.4 1768.2,418.8 1768.7,430.6 1769.2,421.3 1769.7,444.2 1770.2,417.8 1770.7,433.4 1771.2,419.4 1771.7,434.5 1772.2,417.5 1772.7,436.1 1773.2,415 1773.7,432.8 1774.2,416.5 1774.7,446.2 1775.2,415.9 1775.7,433.3 1776.2,423.2 1776.7,436.2 1777.2,420.3 1777.7,438 1778.2,415.9 1778.7,436.4 1779.2,422.1 1779.7,440.6 1780.2,423.7 1780.7,436 1781.2,416.3 1781.7,438.5 1782.2,417.1 1782.7,439.2 1783.2,418.8 1783.7,436 1784.2,419.9 1784.7,437.9 1785.2,421.1 1785.7,436.1 1786.2,425 1786.7,434.3 1787.2,422.4 1787.7,436.5 1788.2,419.8 1788.7,438.8 1789.2,418.9 1789.7,433.3 1790.2,423.1 1790.7,441.7 1791.2,421.6 1791.7,438.6 1792.2,425.5 1792.7,433.6 1793.2,419.1 1793.7,441.2 1794.2,422.6 1794.7,438 1795.2,424.8 1795.7,447.2 1796.2,426.2 1796.7,434.5 1797.2,423 1797.7,442.7 1798.2,420 1798.7,438.7 1799.2,418.8 1799.7,434.5 1800.2,421.1 1800.7,442.5 1801.2,423.8 1801.7,436.3 1802.2,421.1 1802.7,437.5 1803.2,427.5 1803.7,437.5 1804.2,412.4 1804.7,440.7 1805.2,424.4 1805.7,439.8 1806.2,422.7 1806.7,440.4 1807.2,427.9 1807.7,435.5 1808.2,426.3 1808.7,438 1809.2,425.5 1809.7,437.1 1810.2,426.3 1810.7,443.3 1811.2,420.5 1811.7,437 1812.2,427 1812.7,438.4 1813.2,423.9 1813.7,438.8 1814.2,426.7 1814.7,438.4 1815.2,417.9 1815.7,440.4 1816.2,425.5 1816.7,441.7 1817.2,421.3 1817.7,440.9 1818.2,422.3 1818.7,440.3 1819.2,428.2 1819.7,443.4 1820.2,425.3 1820.7,437.7 1821.2,427.7 1821.7,436.6 1822.2,425.8 1822.7,444.7 1823.2,421.4 1823.7,440.1 1824.2,428.4 1824.7,443.3 1825.2,422.6 1825.7,443.5 1826.2,427.1 1826.7,443.8 1827.2,421.8 1827.7,439.1 1828.2,421.6 1828.7,440.7 1829.2,424.5 1829.7,441.2 1830.2,426.3 1830.7,439.4 1831.2,420.1 1831.7,436.8 1832.2,425.3 1832.7,437 1833.2,425.2 1833.7,437.1 1834.2,424.4 1834.7,436.6 1835.2,423.6 1835.7,437.6 1836.2,428.3 1836.7,438.9 1837.2,419.4 1837.7,448.8 1838.2,413.4 1838.7,444.8 1839.2,422.7 1839.7,437.7 1840.2,423.6 1840.7,441.5 1841.2,420 1841.7,441.3 1842.2,424 1842.7,441.8 1843.2,421.7 1843.7,436 1844.2,425 1844.7,440.9 1845.2,428 1845.7,445.4 1846.2,425.4 1846.7,442.4 1847.2,422.7 1847.7,438.5 1848.2,422.9 1848.7,442.2 1849.2,426.8 1849.7,441.8 1850.2,424.4 1850.7,441.3 1851.2,425.4 1851.7,438 1852.2,418.3 1852.7,439.6 1853.2,426.4 1853.7,450.2 1854.2,424.4 1854.7,442.8 1855.2,424.9 1855.7,442.4 1856.2,422.1 1856.7,440.6 1857.2,427 1857.7,440.4 1858.2,427 1858.7,442.7 1859.2,425.6 1859.7,444.6 1860.2,417.1 1860.7,440.6 1861.2,425.2 1861.7,443.6 1862.2,424.8 1862.7,439.7 1863.2,427.5 1863.7,445.7 1864.2,421.4 1864.7,441.3 1865.2,429.8 1865.7,441.1 1866.2,426.5 1866.7,451.8 1867.2,426.6 1867.7,439.8 1868.2,428.9 1868.7,441.3 1869.2,426.3 1869.7,440.3 1870.2,419.1 1870.7,445.1 1871.2,425.7 1871.7,442.8 1872.2,426.1 1872.7,447.6 1873.2,424.8 1873.7,446.4 1874.2,425.7 1874.7,446.8 1875.2,428.7 1875.7,448.1 1876.2,429.9 1876.7,440 1877.2,424.9 1877.7,444.9 1878.2,423.7 1878.7,440.1 1879.2,426.6 1879.7,447.3 1880.2,428.7 1880.7,442.3 1881.2,424 1881.7,454 1882.2,424.5 1882.7,443 1883.2,433 1883.7,440.8 1884.2,430.8 1884.7,448 1885.2,428.7 1885.7,444.9 1886.2,428.8 1886.7,448.8 1887.2,431.4 1887.7,448.9 1888.2,430.8 1888.7,447.9 1889.2,429 1889.7,451.6 1890.2,427 1890.7,445.9 1891.2,430.5 1891.7,446.1 1892.2,426.6 1892.7,445.1 1893.2,428 1893.7,449.4 1894.2,429.3 1894.7,454.4 1895.2,419.8 1895.7,447.1 1896.2,432.4 1896.7,446 1897.2,430 1897.7,446.4 1898.2,426.4 1898.7,446.1 1899.2,434.4 1899.7,446.9 1900.2,431.5 1900.7,453.8 1901.2,433.9 1901.7,447.9 1902.2,432.1 1902.7,445.9 1903.2,429.1 1903.7,449.5 1904.2,434.9 1904.7,445.4 1905.2,431.2 1905.7,442 1906.2,428.9 1906.7,448.8 1907.2,429.9 1907.7,442 1908.2,432.9 1908.7,447.6 1909.2,433.8 1909.7,448.6 1910.2,432.7 1910.7,449.7 1911.2,431.4 1911.7,447.3 1912.2,429.2 1912.7,443.9 1913.2,433.1 1913.7,443.1 1914.2,430.5 1914.7,447.4 1915.2,432.2 1915.7,443.9 1916.2,428.2 1916.7,447.3 1917.2,432.4 1917.7,442.6 1918.2,432.5 1918.7,449.7 1919.2,435.8 1919.7,444.9 1920.2,436 1920.7,447.6 1921.2,433.4 1921.7,451.2 1922.2,434.8 1922.7,445 1923.2,430.6 1923.7,450 1924.2,431.1 1924.7,447.7 1925.2,431.1" fill="none" stroke="#f00000" stroke-width="1.5" stroke-linejoin="round" stroke-linecap="round" />
<text x="1566.3" y="64.6" font-family="'Liberation Sans', sans-serif" font-size="16.5" font-weight="bold" fill="#000" text-anchor="start" textLength="46.2" lengthAdjust="spacingAndGlyphs" >(002)</text>
<text x="1734.8" y="364.2" font-family="'Liberation Sans', sans-serif" font-size="16.5" font-weight="bold" fill="#000" text-anchor="start" textLength="46.8" lengthAdjust="spacingAndGlyphs" >(100)</text>
<rect x="1700.9" y="135.9" width="176.7" height="49.3" fill="#fff" stroke="#909090" stroke-width="1.4"/>
<line x1="1701" y1="147.9" x2="1748.2" y2="147.9" stroke="#333" stroke-width="2.6" />
<line x1="1701" y1="173.3" x2="1748.2" y2="173.3" stroke="#d42020" stroke-width="2.6" />
<text x="1753.7" y="154.9" font-family="'Liberation Serif', sans-serif" font-size="21" font-weight="normal" fill="#222" text-anchor="start" textLength="77.6" lengthAdjust="spacingAndGlyphs" >MWCNT</text>
<text x="1753.7" y="180.7" font-family="'Liberation Serif', sans-serif" font-size="21" font-weight="normal" fill="#222" text-anchor="start" textLength="121.4" lengthAdjust="spacingAndGlyphs" >MWCNT/PVP</text>
<text x="1389" y="328.9" font-family="'Liberation Serif', sans-serif" font-size="20.7" font-weight="bold" fill="#000" text-anchor="start" textLength="115.7" lengthAdjust="spacingAndGlyphs" transform="rotate(-90 1389 328.9)">Intensity(a.u)</text>
<g clip-path="url(#clipc)">
<text x="1646.5" y="553.6" font-family="'Liberation Sans', sans-serif" font-size="19.2" font-weight="bold" fill="#000" text-anchor="start" textLength="9.7" lengthAdjust="spacingAndGlyphs" >2</text>
<text x="1657.5" y="553.6" font-family="'Liberation Sans', sans-serif" font-size="17" font-weight="normal" fill="#000" text-anchor="start" textLength="11" lengthAdjust="spacingAndGlyphs" >Θ</text>
<text x="1676" y="553.6" font-family="'Liberation Sans', sans-serif" font-size="19.2" font-weight="normal" fill="#000" text-anchor="start" >(</text>
<text x="1682.7" y="553.6" font-family="'Liberation Sans', sans-serif" font-size="19.2" font-weight="bold" fill="#000" text-anchor="start" textLength="73.1" lengthAdjust="spacingAndGlyphs" >degree)</text>
</g>
<text x="270" y="649.6" font-family="'Liberation Serif', sans-serif" font-size="33.5" font-weight="bold" fill="#000" text-anchor="start" >(d)</text>
<text x="992.4" y="649.6" font-family="'Liberation Serif', sans-serif" font-size="33.5" font-weight="bold" fill="#000" text-anchor="start" >(e)</text>
<text x="1654.2" y="649.6" font-family="'Liberation Serif', sans-serif" font-size="33.5" font-weight="bold" fill="#000" text-anchor="start" >(f)</text>
<g clip-path="url(#clipd)">
<rect x="23" y="678" width="649.6" height="425" fill="url(#gd)"/>
<rect x="23" y="678" width="649.6" height="425" fill="url(#gd2)"/>
<polygon points="0,1068 23.4,1061.8 45.4,1050 70.7,1041.5 96.1,1028 114.7,1014.4 124.9,1004.3 138.4,984 148.6,975.5 160.4,990.7 167.2,985.7 190,1000 200,1012 189.1,1021.2 223,1019.5 239.9,1028 265.3,1044.9 290.6,1068.6 316,1088.8 331.2,1102.4 335,1130 0,1130" fill="#555555" filter="url(#b2.5)"/>
<polygon points="167.2,1028 189.1,1021.2 223,1019.5 239.9,1028 265.3,1044.9 290.6,1068.6 316,1088.8 331.2,1102.4 335,1130 160,1130" fill="#5e5e5e" filter="url(#b2)"/>
<polyline points="172,1082 200,1074 230,1074 252,1086" fill="none" stroke="#9a9a9a" stroke-width="8" stroke-linejoin="round" stroke-linecap="round" filter="url(#b3)"/>
<ellipse cx="134" cy="1100" rx="24" ry="9" fill="#1c1c1c" filter="url(#b3)"/>
<ellipse cx="90" cy="1075" rx="55" ry="20" fill="#555" filter="url(#b8)"/>
<ellipse cx="150" cy="1040" rx="25" ry="20" fill="#555" filter="url(#b8)"/>
<polygon points="167,990 200,978 232,1000 231,1020 189,1021 167,1028" fill="#8a8a8a" filter="url(#b3)"/>
<polygon points="148,976 200,973.7 261.5,950.6 307.6,930.7 353.7,913.8 399.8,890.7 445.9,873.8 500,855.4 538.9,839.1 598.6,821.2 628.4,817.2 650,812 700,805 700,857 640,862 606.8,866.7 540.1,882.2 500,898.4 476.6,904.5 430.5,919.9 384.4,941.4 338.3,966 292.2,987.5 246.1,1010 223,1011 200,1005 167,988" fill="#a6a6a6" filter="url(#b1.5)"/>
<polyline points="230,1013 292,989 338,967 384,943 430,921 476,906 500,900 540,884 606,868" fill="none" stroke="#d5d5d5" stroke-width="2.2" stroke-linejoin="round" stroke-linecap="round" filter="url(#b1)" opacity="0.75"/>
<polyline points="200,975 261,952 307,932 353,915 399,892 445,875 500,857" fill="none" stroke="#c8c8c8" stroke-width="1.6" stroke-linejoin="round" stroke-linecap="round" filter="url(#b1)" opacity="0.6"/>
<polygon points="700,868 620,880 562.4,893.4 506.8,960.1 473.4,1011.2 490,1016 517.9,1015.7 535.7,989 562.4,953.4 606.8,900 700,888" fill="#8e8e8e" filter="url(#b2)"/>
<polygon points="554.8,650 554.8,678 564.8,709.8 588.7,749.6 608.6,781.4 622.5,809.2 632.4,829.1 650.3,845 700,843 700,650" fill="#6c6c6c" filter="url(#b1.5)"/>
<polygon points="568.8,650 568.8,678 586.7,713.8 598.6,735.6 610.5,759.5 624.5,789.4 632.4,813.2 644.4,835.1 658.3,845 700,845 700,650" fill="#2c2c2c" filter="url(#b1.5)"/>
<polygon points="628,770 640,800 648,830 660,843 700,845 700,730 650,720" fill="#1c1c1c" filter="url(#b5)"/>
<ellipse cx="655" cy="700" rx="22" ry="25" fill="#2c2c2c" filter="url(#b6)"/>
<polygon points="700,895 672.4,897.8 629.1,913.4 573.5,944.5 564.6,960.1 584.6,977.9 613.5,989 595.7,1020.1 562.4,1037.9 517.9,1055.7 495.7,1064.6 473.4,1130 700,1130" fill="#4a4a4a" filter="url(#b1.5)"/>
<polygon points="700,905 645,925 628,960 640,1000 620,1040 600,1070 590,1130 700,1130" fill="#262626" filter="url(#b6)"/>
<polygon points="333,1130 338,1060 362,1044.6 395.6,1031.2 440,1029 464.5,1044.6 484.5,1060 500,1075 495,1130" fill="#5f5f5f" filter="url(#b2)"/>
<polyline points="360,1094 400,1076 440,1074 470,1090" fill="none" stroke="#8a8a8a" stroke-width="7" stroke-linejoin="round" stroke-linecap="round" filter="url(#b3)"/>
<ellipse cx="420" cy="1102" rx="40" ry="10" fill="#3a3a3a" filter="url(#b4)"/>
<rect x="23" y="678" width="649.6" height="425" filter="url(#noise)" opacity="0.22" style="mix-blend-mode:overlay"/>
</g>
<text x="51.7" y="1085.4" font-family="'Liberation Serif', sans-serif" font-size="29.5" font-weight="bold" fill="#ffff00" text-anchor="start" textLength="75.6" lengthAdjust="spacingAndGlyphs" >50 nm</text>
<rect x="568" y="1072" width="94.7" height="10" fill="#ff0000"/>
<text x="597.7" y="1066.3" font-family="'Liberation Sans', sans-serif" font-size="9.5" font-weight="bold" fill="#ff0000" text-anchor="start" textLength="35.5" lengthAdjust="spacingAndGlyphs" >50 nm</text>
<g clip-path="url(#clipd)"><text x="566" y="1101.7" font-family="'Liberation Sans', sans-serif" font-size="18.5" font-weight="normal" fill="#ff0000" text-anchor="start" textLength="107" lengthAdjust="spacingAndGlyphs" >RASTAK LAB</text></g>
<text x="274.5" y="948.3" font-family="'Liberation Sans', sans-serif" font-size="13.5" font-weight="normal" fill="#111" text-anchor="start" textLength="27.7" lengthAdjust="spacingAndGlyphs" >7nm</text>
<line x1="301.4" y1="913.8" x2="305.5" y2="924.5" stroke="#ff1010" stroke-width="1.3" stroke-dasharray="3 2"/>
<polygon points="307.6,930 301.8,923.5 309,921" fill="#ff1010"/>
<line x1="319.9" y1="957.6" x2="315.5" y2="949.5" stroke="#ff1010" stroke-width="1.3" stroke-dasharray="3 2"/>
<polygon points="313,943.7 312.5,951.5 319.5,949" fill="#ff1010"/>
<g clip-path="url(#clipe)">
<rect x="731.6" y="676" width="622.1999999999999" height="425.70000000000005" fill="url(#ge)"/>
<rect x="731.6" y="676" width="622.1999999999999" height="425.70000000000005" fill="url(#ge2)"/>
<polygon points="866,788 887,786 927,773 967,765.5 1006,755.5 1048,749.6 1099.7,751.5 1139.4,765.5 1169.3,787.3 1195.1,809.2 1211,835.1 1223,864.9 1228,890 1226,941.3 1217.8,978.1 1199.4,1006.7 1172.8,1035.3 1142.2,1053.7 1101.3,1068 1060.4,1065.9 1040,1057.8 1030,1045 1028,1025 1035,1010 1040,1012.8 1060.4,1021 1091.1,1018.9 1121.7,1006.7 1142.2,994.4 1152.4,972 1168.7,941.3 1171.3,890 1163.3,858.9 1143.4,835.1 1115.6,813.2 1079.8,799.3 1048,803 1006.4,807.2 970.6,809.2 966.7,819.2 930,825 890,815 866,812" fill="#868686" filter="url(#b1.5)"/>
<polyline points="880,792 927,780 967,772 1006,763 1048,758 1099,760 1136,773 1165,794 1190,815 1205,840 1215,866 1219,890 1217,940 1209,975 1192,1000 1168,1026 1140,1044 1100,1058 1062,1056" fill="none" stroke="#656565" stroke-width="17" stroke-linejoin="round" stroke-linecap="round" filter="url(#b2.5)"/>
<ellipse cx="1118" cy="1020" rx="12" ry="6" fill="#5a5a5a" filter="url(#b3)"/>
<ellipse cx="1172" cy="1018" rx="9" ry="7" fill="#4a4a4a" filter="url(#b3)"/>
<ellipse cx="1206" cy="925" rx="10" ry="16" fill="#3a3a3a" filter="url(#b3)"/>
<ellipse cx="1110" cy="776" rx="5" ry="8" fill="#333" filter="url(#b2)"/>
<ellipse cx="1063" cy="1050" rx="8" ry="10" fill="#444" filter="url(#b3)"/>
<ellipse cx="1193" cy="1000" rx="9" ry="9" fill="#505050" filter="url(#b3)"/>
<polygon points="731.6,737 750,725 779,709.4 806.9,707.5 830.5,725.2 858,752.8 870,776.5 866,790 858,790 826.6,778 787,778 767.4,770 751.7,796 767.4,808 751.7,827.7 731.6,828" fill="#4c4c4c" filter="url(#b2)"/>
<ellipse cx="758" cy="765" rx="30" ry="42" fill="#383838" filter="url(#b7)"/>
<polygon points="700,740 745,745 752,800 745,830 700,840" fill="#3c3c3c" filter="url(#b5)"/>
<ellipse cx="790" cy="728" rx="22" ry="14" fill="#5a5a5a" filter="url(#b3)"/>
<ellipse cx="840" cy="748" rx="16" ry="18" fill="#5c5c5c" filter="url(#b3)"/>
<ellipse cx="800" cy="745" rx="22" ry="18" fill="#444" filter="url(#b6)"/>
<polygon points="751.7,776 800,774 846,784 860,798 820,803 770,800 751.7,800" fill="#8a8a8a" filter="url(#b2)"/>
<polygon points="846,790 886,792 875,815 840,850 826.6,887 800,890 779,847.4 810,815" fill="#888888" filter="url(#b2)"/>
<polygon points="815,810 860,800 870,830 855,870 845,946 834.5,946 820,900" fill="#8c8c8c" filter="url(#b2)"/>
<polygon points="731.6,843 770,840 805,848 830.5,870 830,922 731.6,922" fill="#565656" filter="url(#b2.5)"/>
<ellipse cx="799" cy="875" rx="10" ry="8" fill="#151515" filter="url(#b3)"/>
<polygon points="731.6,922 830.5,938 854,946 866,969.7 862,1017 870,1044.6 901.5,1060.4 909.4,1088 909.4,1105 731.6,1105" fill="#3c3c3c" filter="url(#b2)"/>
<ellipse cx="790" cy="990" rx="45" ry="40" fill="#282828" filter="url(#b8)"/>
<ellipse cx="850" cy="1080" rx="45" ry="22" fill="#222" filter="url(#b6)"/>
<ellipse cx="745" cy="1050" rx="18" ry="35" fill="#2a2a2a" filter="url(#b6)"/>
<polyline points="740,960 770,985 800,1030" fill="none" stroke="#5a5a5a" stroke-width="8" stroke-linejoin="round" stroke-linecap="round" filter="url(#b4)"/>
<polygon points="806,880 834,880 836,937 818,937" fill="#939393" filter="url(#b2)"/>
<polygon points="870,1045 932.3,1012.8 952.8,992.4 993.6,967.9 1014.1,916.8 1024.3,908.6 1048,904.5 1052,920 1040,950 1003.8,986.3 983.4,1021 952.8,1043.5 911.9,1063.9 885,1066" fill="#979797" filter="url(#b2)"/>
<ellipse cx="890" cy="1085" rx="22" ry="22" fill="#2a2a2a" filter="url(#b5)"/>
<ellipse cx="950" cy="1021" rx="33" ry="12" fill="#6e6e6e" filter="url(#b3)" transform="rotate(-28 950 1021)"/>
<polygon points="952.8,1110 975,1040 1003.8,961.7 1025,935 1048,940 1046.8,961.7 1030,1030 1014,1110" fill="#9c9c9c" filter="url(#b2)"/>
<polygon points="1040,900 1062,900 1085,915 1080,945 1060,960 1045,950" fill="#8a8a8a" filter="url(#b2)"/>
<ellipse cx="1055" cy="913" rx="5" ry="4" fill="#444" filter="url(#b2)"/>
<rect x="731.6" y="676" width="622.1999999999999" height="425.70000000000005" filter="url(#noise)" opacity="0.22" style="mix-blend-mode:overlay"/>
</g>
<text x="763.8" y="1084.3" font-family="'Liberation Serif', sans-serif" font-size="29.5" font-weight="bold" fill="#ffff00" text-anchor="start" textLength="88.8" lengthAdjust="spacingAndGlyphs" >100 nm</text>
<rect x="1239.2" y="1069" width="105.3" height="10.2" fill="#ff0000"/>
<text x="1270.9" y="1063.9" font-family="'Liberation Sans', sans-serif" font-size="9.5" font-weight="bold" fill="#ff0000" text-anchor="start" textLength="40.9" lengthAdjust="spacingAndGlyphs" >100 nm</text>
<g clip-path="url(#clipe)"><text x="1248.4" y="1097.6" font-family="'Liberation Sans', sans-serif" font-size="18.5" font-weight="normal" fill="#ff0000" text-anchor="start" textLength="105.2" lengthAdjust="spacingAndGlyphs" >RASTAK LAB</text></g>
<text x="1006.4" y="822.1" font-family="'Liberation Sans', sans-serif" font-size="13.5" font-weight="normal" fill="#111" text-anchor="start" textLength="34.8" lengthAdjust="spacingAndGlyphs" >10nm</text>
<text x="1070.8" y="848" font-family="'Liberation Sans', sans-serif" font-size="13.5" font-weight="normal" fill="#111" text-anchor="start" textLength="21.9" lengthAdjust="spacingAndGlyphs" >PVP</text>
<text x="1124.5" y="854" font-family="'Liberation Sans', sans-serif" font-size="13.5" font-weight="normal" fill="#111" text-anchor="start" textLength="37.8" lengthAdjust="spacingAndGlyphs" >7.5nm</text>
<line x1="1016" y1="794" x2="1074" y2="791" stroke="#ff1010" stroke-width="1.6" />
<line x1="1016" y1="805" x2="1074" y2="799" stroke="#ff1010" stroke-width="1.6" />
<line x1="1054.5" y1="826.4" x2="1044" y2="811" stroke="#ff1010" stroke-width="1.2" />
<polygon points="1040.8,805.9 1041,814 1047.5,810" fill="#ff1010"/>
<line x1="1123.5" y1="810.2" x2="1160.3" y2="837.1" stroke="#ff1010" stroke-width="1.6" />
<line x1="1120.5" y1="817.2" x2="1151.4" y2="840" stroke="#ff1010" stroke-width="1.6" />
<line x1="1103.6" y1="844" x2="1124" y2="834.5" stroke="#ff1010" stroke-width="1.2" stroke-dasharray="3 2"/>
<polygon points="1130.5,831.1 1122.5,831 1125,838" fill="#ff1010"/>
<g clip-path="url(#clipf)">
<rect x="1418" y="666" width="590.4000000000001" height="431" fill="url(#gf)"/>
<rect x="1418" y="666" width="590.4000000000001" height="431" fill="url(#gf2)"/>
<rect x="1418" y="666" width="590.4000000000001" height="431" fill="url(#gf3)"/>
<rect x="1418" y="666" width="590.4000000000001" height="431" fill="url(#gf4)"/>
<polygon points="1400,640 1470,640 1470,668 1520,725 1569,779 1630,826 1688.6,867 1750,905 1808,938.5 1860,957 1907,970 1960,985 2030,1002 2030,1060 1960,1056 1907,1050 1860,1037 1808,1018 1750,1000 1688.6,978 1650,952 1609,919 1570,890 1529,859 1490,826 1450,791 1418,770 1400,765" fill="url(#gband)" filter="url(#b5)"/>
<polyline points="1422,737 1475,779 1529,817 1590,862 1649,901 1728,947 1800,977 1848,992" fill="none" stroke="#fff" stroke-width="8" stroke-linejoin="round" stroke-linecap="round" filter="url(#b4)" opacity="0.1"/>
<polyline points="1480,700 1530,752 1600,808 1660,852 1740,905 1820,945 1900,975" fill="none" stroke="#000" stroke-width="9" stroke-linejoin="round" stroke-linecap="round" filter="url(#b5)" opacity="0.14"/>
<polygon points="1390,640 1460,640 1478,690 1452,740 1420,762 1390,762" fill="#222" filter="url(#b10)"/>
<polygon points="1895,998 1960,1003 2030,1010 2030,1064 1960,1060 1910,1054 1880,1035" fill="#333" filter="url(#b8)" opacity="0.6"/>
<rect x="1418" y="666" width="590.4000000000001" height="431" filter="url(#noise)" opacity="0.22" style="mix-blend-mode:overlay"/>
</g>
<text x="1446.7" y="1077.9" font-family="'Liberation Serif', sans-serif" font-size="29.5" font-weight="bold" fill="#ffff00" text-anchor="start" textLength="75.6" lengthAdjust="spacingAndGlyphs" >50 nm</text>
<rect x="1899" y="1064.6" width="99" height="10.7" fill="#ff0000"/>
<text x="1931.3" y="1060.1" font-family="'Liberation Sans', sans-serif" font-size="9.5" font-weight="bold" fill="#ff0000" text-anchor="start" textLength="34.4" lengthAdjust="spacingAndGlyphs" >50 nm</text>
<g clip-path="url(#clipf)"><text x="1903.5" y="1093.5" font-family="'Liberation Sans', sans-serif" font-size="18.5" font-weight="normal" fill="#ff0000" text-anchor="start" textLength="104.5" lengthAdjust="spacingAndGlyphs" >RASTAK LAB</text></g>
<text x="1622.4" y="989" font-family="'Liberation Sans', sans-serif" font-size="13.5" font-weight="normal" fill="#111" text-anchor="start" textLength="22.2" lengthAdjust="spacingAndGlyphs" >PVP</text>
<text x="1662.4" y="1002.3" font-family="'Liberation Sans', sans-serif" font-size="13.5" font-weight="normal" fill="#111" text-anchor="start" textLength="25.6" lengthAdjust="spacingAndGlyphs" >4nm</text>
<text x="1737.8" y="887.8" font-family="'Liberation Sans', sans-serif" font-size="13.5" font-weight="normal" fill="#111" text-anchor="start" textLength="24.5" lengthAdjust="spacingAndGlyphs" >PVP</text>
<text x="1747.8" y="921.2" font-family="'Liberation Sans', sans-serif" font-size="13.5" font-weight="normal" fill="#111" text-anchor="start" textLength="27.8" lengthAdjust="spacingAndGlyphs" >4nm</text>
<line x1="1643.5" y1="946.7" x2="1698" y2="982.3" stroke="#5a9be0" stroke-width="1.4" />
<line x1="1636.8" y1="955.6" x2="1694.6" y2="990.1" stroke="#5a9be0" stroke-width="1.4" />
<line x1="1663.5" y1="973.4" x2="1656" y2="976.8" stroke="#5a9be0" stroke-width="1.2" stroke-dasharray="2 1.5"/>
<polygon points="1650.5,979.2 1657,973 1658.5,979.5" fill="#5a9be0"/>
<line x1="1696.9" y1="886.7" x2="1757.8" y2="927.8" stroke="#5a9be0" stroke-width="1.4" />
<line x1="1692.4" y1="893.4" x2="1754.5" y2="933.4" stroke="#5a9be0" stroke-width="1.4" />
<line x1="1724.5" y1="901.1" x2="1731" y2="896" stroke="#5a9be0" stroke-width="1.2" />
<polygon points="1737,890.5 1728.5,893 1733,898.5" fill="#5a9be0"/>
<line x1="1907.9" y1="980.1" x2="1952.4" y2="994.5" stroke="#5a9be0" stroke-width="1.4" />
<line x1="1904.6" y1="987.9" x2="1950.2" y2="1000.5" stroke="#5a9be0" stroke-width="1.4" />
</svg></body></html>
